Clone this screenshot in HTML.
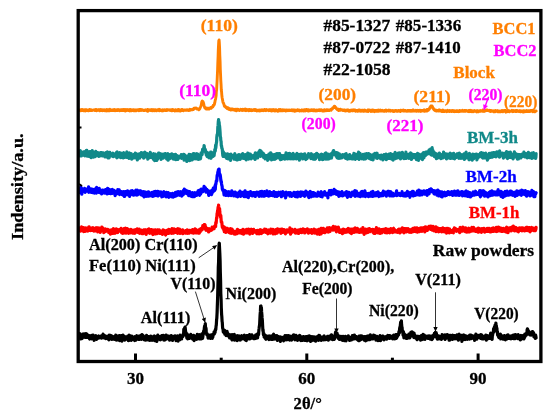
<!DOCTYPE html>
<html><head><meta charset="utf-8"><title>XRD patterns</title>
<style>html,body{margin:0;padding:0;background:#fff}svg{display:block}text{font-family:"Liberation Serif","Times New Roman",serif;font-weight:bold;stroke-width:.3px}</style></head><body>
<svg width="550" height="419" viewBox="0 0 550 419">
<rect width="550" height="419" fill="#fff"/>
<polyline fill="none" stroke="#FF7F00" stroke-width="2.9" stroke-linejoin="round" stroke-linecap="round" points="79.6,110.3 79.8,109.9 80.1,110.2 80.3,110.0 80.6,110.8 80.8,109.9 81.1,109.6 81.3,110.4 81.6,110.0 81.8,110.3 82.1,109.9 82.3,110.5 82.6,109.6 82.8,110.2 83.1,110.4 83.3,110.7 83.6,110.0 83.8,110.2 84.1,110.5 84.3,109.8 84.6,110.5 84.8,110.4 85.1,110.9 85.3,110.4 85.6,109.7 85.8,109.9 86.1,110.0 86.3,109.7 86.6,110.3 86.8,110.2 87.1,110.6 87.3,110.3 87.6,110.1 87.8,110.3 88.1,110.7 88.3,110.8 88.6,109.9 88.8,110.1 89.1,110.2 89.3,110.5 89.6,109.6 89.8,110.6 90.1,110.6 90.3,109.7 90.6,110.4 90.8,110.1 91.1,109.9 91.3,110.5 91.6,110.6 91.8,110.5 92.1,110.4 92.3,110.5 92.6,110.2 92.8,110.1 93.1,110.1 93.3,110.0 93.6,110.0 93.8,110.0 94.1,110.1 94.3,109.9 94.6,110.4 94.8,110.5 95.1,110.1 95.3,109.9 95.6,110.1 95.8,109.6 96.1,110.5 96.3,110.8 96.6,109.6 96.8,110.4 97.1,110.5 97.3,110.5 97.6,110.2 97.8,110.0 98.1,109.8 98.3,110.2 98.6,109.8 98.8,110.0 99.1,109.7 99.3,110.3 99.6,110.6 99.8,109.7 100.1,110.3 100.3,110.3 100.6,109.9 100.8,110.4 101.1,109.6 101.3,110.2 101.6,109.8 101.8,110.4 102.1,109.9 102.3,109.8 102.6,110.7 102.8,110.5 103.1,110.6 103.3,110.1 103.6,109.9 103.8,109.8 104.1,109.7 104.3,110.5 104.6,110.3 104.8,110.6 105.1,110.1 105.3,110.3 105.6,110.6 105.8,110.3 106.1,109.7 106.3,109.8 106.6,110.9 106.8,110.6 107.1,109.6 107.3,109.8 107.6,109.7 107.8,110.3 108.1,110.6 108.3,110.2 108.6,109.8 108.8,110.6 109.1,109.7 109.3,110.3 109.6,110.8 109.8,110.3 110.1,109.3 110.3,110.1 110.6,110.5 110.8,110.3 111.1,110.1 111.3,110.3 111.6,109.9 111.8,109.9 112.1,110.2 112.3,110.6 112.6,110.0 112.8,110.0 113.1,109.6 113.3,109.6 113.6,109.7 113.8,109.9 114.1,110.5 114.3,109.9 114.6,109.6 114.8,110.1 115.1,110.7 115.3,110.3 115.6,110.1 115.8,110.5 116.1,110.6 116.3,110.3 116.6,110.2 116.8,109.9 117.1,110.2 117.3,110.5 117.6,110.2 117.8,110.5 118.1,109.6 118.3,110.1 118.6,110.0 118.8,110.3 119.1,109.7 119.3,110.2 119.6,110.7 119.8,110.2 120.1,109.8 120.3,110.2 120.6,110.0 120.8,110.4 121.1,110.6 121.3,110.4 121.6,110.5 121.8,110.1 122.1,109.6 122.3,110.1 122.6,110.1 122.8,110.4 123.1,110.2 123.3,109.9 123.6,110.4 123.8,109.5 124.1,110.3 124.3,109.8 124.6,110.5 124.8,110.0 125.1,109.6 125.3,111.1 125.6,109.8 125.8,109.7 126.1,109.9 126.3,109.9 126.6,109.7 126.8,110.5 127.1,109.7 127.3,110.4 127.6,110.0 127.8,109.8 128.1,109.9 128.3,109.7 128.6,110.4 128.8,109.9 129.1,110.5 129.3,109.7 129.6,110.9 129.8,110.8 130.1,109.6 130.3,110.3 130.6,109.7 130.8,109.9 131.1,109.8 131.3,110.8 131.6,110.2 131.8,110.3 132.1,110.1 132.3,110.0 132.6,110.5 132.8,110.2 133.1,110.1 133.3,109.7 133.6,109.8 133.8,110.8 134.1,110.2 134.3,110.8 134.6,110.0 134.8,110.6 135.1,110.0 135.3,110.7 135.6,109.9 135.8,110.3 136.1,110.6 136.3,110.7 136.6,110.2 136.8,110.0 137.1,110.4 137.3,109.9 137.6,109.8 137.8,109.7 138.1,109.9 138.3,110.0 138.6,109.9 138.8,110.8 139.1,110.5 139.3,109.5 139.6,110.2 139.8,110.4 140.1,110.5 140.3,109.5 140.6,110.0 140.8,109.8 141.1,109.7 141.3,110.0 141.6,109.8 141.8,110.4 142.1,109.8 142.3,109.8 142.6,110.0 142.8,110.0 143.1,110.0 143.3,110.1 143.6,110.5 143.8,110.6 144.1,110.6 144.3,110.6 144.6,110.5 144.8,110.4 145.1,110.1 145.3,109.9 145.6,110.3 145.8,110.4 146.1,110.3 146.3,110.2 146.6,110.6 146.8,110.1 147.1,109.7 147.3,110.2 147.6,109.4 147.8,111.3 148.1,110.4 148.3,110.1 148.6,110.0 148.8,109.9 149.1,109.7 149.3,110.4 149.6,110.0 149.8,110.0 150.1,109.9 150.3,109.9 150.6,109.7 150.8,109.9 151.1,110.6 151.3,109.8 151.6,109.6 151.8,110.5 152.1,110.5 152.3,110.7 152.6,109.8 152.8,110.0 153.1,109.9 153.3,109.8 153.6,110.0 153.8,109.8 154.1,110.8 154.3,110.0 154.6,109.7 154.8,109.7 155.1,110.1 155.3,110.3 155.6,110.2 155.8,109.8 156.1,110.7 156.3,110.1 156.6,110.3 156.8,110.7 157.1,110.2 157.3,110.0 157.6,110.2 157.8,109.7 158.1,110.3 158.3,110.2 158.6,109.9 158.8,109.7 159.1,109.3 159.3,110.9 159.6,109.6 159.8,109.5 160.1,109.9 160.3,110.5 160.6,110.1 160.8,110.5 161.1,110.2 161.3,110.4 161.6,110.4 161.8,110.8 162.1,110.9 162.3,110.0 162.6,110.5 162.8,109.9 163.1,110.8 163.3,110.3 163.6,110.2 163.8,110.0 164.1,110.0 164.3,109.7 164.6,110.1 164.8,110.0 165.1,110.1 165.3,110.6 165.6,110.0 165.8,110.3 166.1,110.2 166.3,109.7 166.6,110.3 166.8,110.5 167.1,110.4 167.3,109.6 167.6,109.9 167.8,110.1 168.1,109.9 168.3,109.9 168.6,109.8 168.8,109.9 169.1,110.1 169.3,109.9 169.6,110.2 169.8,109.9 170.1,110.0 170.3,110.3 170.6,110.0 170.8,110.5 171.1,110.6 171.3,110.0 171.6,110.7 171.8,110.6 172.1,110.7 172.3,109.5 172.6,110.1 172.8,110.0 173.1,110.5 173.3,109.6 173.6,110.0 173.8,110.1 174.1,110.5 174.3,110.8 174.6,110.5 174.8,110.9 175.1,110.0 175.3,110.9 175.6,109.7 175.8,110.0 176.1,110.6 176.3,110.7 176.6,110.8 176.8,110.5 177.1,110.1 177.3,110.3 177.6,110.8 177.8,110.4 178.1,110.5 178.3,109.5 178.6,110.8 178.8,110.4 179.1,109.7 179.3,110.5 179.6,110.4 179.8,110.2 180.1,110.7 180.3,111.1 180.6,109.9 180.8,110.8 181.1,110.7 181.3,110.0 181.6,110.0 181.8,109.5 182.1,109.8 182.3,110.6 182.6,109.6 182.8,109.8 183.1,110.4 183.3,110.7 183.6,110.1 183.8,110.4 184.1,110.2 184.3,109.9 184.6,109.9 184.8,109.9 185.1,110.2 185.3,110.0 185.6,110.2 185.8,110.1 186.1,110.2 186.3,109.9 186.6,109.9 186.8,109.8 187.1,109.9 187.3,110.2 187.6,109.8 187.8,110.3 188.1,110.3 188.3,110.2 188.6,110.3 188.8,110.5 189.1,109.7 189.3,109.8 189.6,109.7 189.8,109.4 190.1,110.1 190.3,110.2 190.6,110.1 190.8,109.5 191.1,109.5 191.3,109.7 191.6,109.9 191.8,109.9 192.1,109.8 192.3,109.4 192.6,109.2 192.8,109.7 193.1,109.2 193.3,109.5 193.6,109.0 193.8,109.1 194.1,108.2 194.3,108.7 194.6,108.2 194.8,108.2 195.1,108.0 195.3,108.2 195.6,108.1 195.8,108.2 196.1,108.0 196.3,108.3 196.6,108.7 196.8,109.0 197.1,108.9 197.3,108.8 197.6,109.1 197.8,109.1 198.1,109.0 198.3,109.4 198.6,109.5 198.8,109.7 199.1,109.3 199.3,109.3 199.6,108.9 199.8,108.8 200.1,107.8 200.3,107.6 200.6,106.8 200.8,106.2 201.1,105.2 201.3,104.9 201.6,102.9 201.8,101.8 202.1,101.4 202.3,101.0 202.6,101.5 202.8,101.5 203.1,101.7 203.3,102.7 203.6,103.6 203.8,104.1 204.1,106.2 204.3,106.5 204.6,107.1 204.8,107.9 205.1,107.4 205.3,107.9 205.6,108.5 205.8,108.7 206.1,108.0 206.3,109.0 206.6,108.9 206.8,109.0 207.1,108.1 207.3,109.1 207.6,109.0 207.8,108.4 208.1,108.3 208.3,109.0 208.6,108.5 208.8,108.4 209.1,109.1 209.3,108.2 209.6,108.1 209.8,108.0 210.1,108.2 210.3,108.2 210.6,108.2 210.8,107.5 211.1,108.3 211.3,107.9 211.6,107.6 211.8,107.3 212.1,107.2 212.3,107.1 212.6,106.4 212.8,106.9 213.1,106.2 213.3,105.2 213.6,105.3 213.8,105.4 214.1,104.7 214.3,104.6 214.6,103.4 214.8,102.7 215.1,100.8 215.3,100.0 215.6,98.8 215.8,97.5 216.1,95.8 216.3,92.1 216.6,89.9 216.8,86.3 217.1,81.0 217.3,76.6 217.6,69.9 217.8,63.5 218.1,56.2 218.3,49.8 218.6,44.2 218.8,40.8 219.1,39.9 219.3,42.7 219.6,48.2 219.8,55.2 220.1,61.7 220.3,69.2 220.6,75.5 220.8,80.3 221.1,85.2 221.3,89.8 221.6,92.1 221.8,94.8 222.1,97.5 222.3,98.6 222.6,100.1 222.8,101.3 223.1,102.8 223.3,102.9 223.6,103.2 223.8,104.1 224.1,104.7 224.3,106.0 224.6,106.4 224.8,106.5 225.1,106.3 225.3,106.6 225.6,106.9 225.8,107.3 226.1,107.7 226.3,107.1 226.6,107.9 226.8,108.1 227.1,107.5 227.3,107.8 227.6,108.7 227.8,108.2 228.1,107.9 228.3,108.6 228.6,108.2 228.8,108.9 229.1,109.4 229.3,108.6 229.6,108.7 229.8,109.1 230.1,109.6 230.3,109.3 230.6,109.2 230.8,110.1 231.1,109.4 231.3,109.7 231.6,109.1 231.8,109.3 232.1,109.6 232.3,108.9 232.6,109.7 232.8,109.2 233.1,109.3 233.3,109.9 233.6,109.9 233.8,110.0 234.1,109.3 234.3,109.7 234.6,110.2 234.8,109.8 235.1,109.7 235.3,110.0 235.6,109.3 235.8,109.5 236.1,110.0 236.3,110.8 236.6,109.8 236.8,109.3 237.1,110.1 237.3,110.2 237.6,109.3 237.8,109.3 238.1,110.1 238.3,109.4 238.6,110.2 238.8,110.3 239.1,110.3 239.3,110.5 239.6,109.8 239.8,109.7 240.1,110.1 240.3,109.9 240.6,110.0 240.8,109.3 241.1,109.5 241.3,109.9 241.6,110.3 241.8,109.8 242.1,110.0 242.3,110.4 242.6,109.3 242.8,109.9 243.1,110.2 243.3,109.9 243.6,110.1 243.8,109.8 244.1,110.0 244.3,109.1 244.6,110.0 244.8,110.1 245.1,110.5 245.3,109.4 245.6,109.1 245.8,109.6 246.1,110.7 246.3,109.9 246.6,110.0 246.8,110.3 247.1,109.5 247.3,110.0 247.6,110.2 247.8,110.2 248.1,109.8 248.3,109.8 248.6,109.6 248.8,110.7 249.1,109.9 249.3,110.5 249.6,109.5 249.8,110.5 250.1,109.6 250.3,110.5 250.6,109.8 250.8,110.4 251.1,110.2 251.3,109.7 251.6,110.7 251.8,110.0 252.1,110.1 252.3,110.6 252.6,110.0 252.8,109.9 253.1,109.9 253.3,109.9 253.6,109.9 253.8,110.2 254.1,109.5 254.3,109.6 254.6,110.4 254.8,110.5 255.1,109.5 255.3,109.6 255.6,110.5 255.8,109.8 256.1,110.0 256.4,110.4 256.6,110.1 256.9,110.9 257.1,110.1 257.4,110.8 257.6,110.4 257.9,110.7 258.1,110.5 258.4,110.8 258.6,110.4 258.9,110.6 259.1,110.0 259.4,110.5 259.6,110.0 259.9,111.0 260.1,110.5 260.4,110.5 260.6,110.5 260.9,110.5 261.1,110.0 261.4,110.3 261.6,110.0 261.9,109.9 262.1,110.7 262.4,109.9 262.6,110.2 262.9,110.1 263.1,110.4 263.4,110.6 263.6,110.3 263.9,110.3 264.1,110.0 264.4,109.4 264.6,109.9 264.9,110.1 265.1,109.9 265.4,110.5 265.6,110.4 265.9,110.3 266.1,110.6 266.4,110.2 266.6,109.6 266.9,109.8 267.1,109.9 267.4,110.0 267.6,110.1 267.9,110.1 268.1,110.4 268.4,110.6 268.6,110.1 268.9,109.7 269.1,109.8 269.4,109.8 269.6,110.1 269.9,109.9 270.1,110.4 270.4,109.8 270.6,110.3 270.9,110.6 271.1,110.8 271.4,111.0 271.6,109.8 271.9,110.1 272.1,110.4 272.4,110.1 272.6,110.3 272.9,110.6 273.1,110.0 273.4,109.6 273.6,110.0 273.9,109.9 274.1,110.1 274.4,110.2 274.6,110.1 274.9,111.0 275.1,109.9 275.4,110.1 275.6,110.7 275.9,109.7 276.1,110.3 276.4,110.1 276.6,110.0 276.9,110.8 277.1,110.4 277.4,110.4 277.6,110.8 277.9,111.1 278.1,110.3 278.4,110.1 278.6,110.0 278.9,109.6 279.1,110.7 279.4,110.6 279.6,110.4 279.9,110.6 280.1,109.5 280.4,110.0 280.6,110.1 280.9,110.6 281.1,110.7 281.4,110.1 281.6,110.4 281.9,110.8 282.1,110.4 282.4,109.8 282.6,110.4 282.9,110.7 283.1,109.9 283.4,110.0 283.6,110.1 283.9,110.4 284.1,110.1 284.4,110.3 284.6,110.1 284.9,110.3 285.1,110.0 285.4,110.4 285.6,111.0 285.9,110.8 286.1,110.1 286.4,110.0 286.6,110.5 286.9,110.8 287.1,110.8 287.4,110.3 287.6,110.3 287.9,110.1 288.1,110.4 288.4,110.2 288.6,110.6 288.9,110.3 289.1,110.6 289.4,110.0 289.6,110.1 289.9,110.5 290.1,110.3 290.4,110.5 290.6,110.6 290.9,110.2 291.1,110.1 291.4,110.0 291.6,110.5 291.9,109.9 292.1,110.3 292.4,110.4 292.6,110.9 292.9,110.9 293.1,109.9 293.4,110.6 293.6,110.4 293.9,110.1 294.1,110.2 294.4,110.6 294.6,111.3 294.9,110.0 295.1,110.4 295.4,110.9 295.6,110.5 295.9,110.6 296.1,110.5 296.4,110.7 296.6,110.8 296.9,110.4 297.1,110.4 297.4,109.7 297.6,110.2 297.9,110.0 298.1,110.5 298.4,110.1 298.6,110.4 298.9,110.3 299.1,110.3 299.4,111.0 299.6,110.2 299.9,110.5 300.1,110.9 300.4,110.8 300.6,110.5 300.9,110.2 301.1,110.8 301.4,110.4 301.6,110.0 301.9,110.9 302.1,110.1 302.4,110.5 302.6,110.6 302.9,109.9 303.1,110.4 303.4,110.9 303.6,109.9 303.9,110.3 304.1,110.8 304.4,110.4 304.6,109.7 304.9,110.9 305.1,109.9 305.4,110.9 305.6,110.6 305.9,109.8 306.1,110.0 306.4,109.6 306.6,110.1 306.9,110.1 307.1,109.6 307.4,110.9 307.6,110.8 307.9,110.2 308.1,110.7 308.4,111.0 308.6,109.7 308.9,110.3 309.1,110.0 309.4,110.3 309.6,110.6 309.9,110.4 310.1,110.2 310.4,110.6 310.6,109.9 310.9,110.3 311.1,110.6 311.4,110.6 311.6,110.6 311.9,109.8 312.1,109.9 312.4,110.2 312.6,110.1 312.9,110.3 313.1,110.1 313.4,109.8 313.6,110.9 313.9,110.1 314.1,110.5 314.4,109.8 314.6,110.9 314.9,110.5 315.1,110.2 315.4,110.3 315.6,110.5 315.9,111.0 316.1,110.4 316.4,110.7 316.6,110.1 316.9,110.4 317.1,110.3 317.4,110.2 317.6,110.7 317.9,110.5 318.1,110.1 318.4,110.5 318.6,109.9 318.9,110.3 319.1,110.4 319.4,110.3 319.6,109.8 319.9,110.2 320.1,110.7 320.4,110.1 320.6,110.2 320.9,109.9 321.1,109.9 321.4,109.7 321.6,110.3 321.9,110.0 322.1,110.1 322.4,110.9 322.6,110.4 322.9,110.5 323.1,111.0 323.4,110.7 323.6,110.4 323.9,109.9 324.1,111.0 324.4,109.7 324.6,110.0 324.9,109.9 325.1,110.9 325.4,110.7 325.6,110.2 325.9,110.3 326.1,110.2 326.4,109.6 326.6,109.6 326.9,110.7 327.1,110.4 327.4,110.5 327.6,110.6 327.9,109.8 328.1,110.6 328.4,109.9 328.6,110.2 328.9,109.9 329.1,110.0 329.4,110.5 329.6,109.9 329.9,109.9 330.1,109.8 330.4,110.0 330.6,109.9 330.9,109.4 331.1,110.3 331.4,109.8 331.6,108.9 331.9,109.2 332.1,109.3 332.4,109.0 332.6,107.9 332.9,107.9 333.1,107.6 333.4,107.6 333.6,107.6 333.9,106.8 334.1,107.4 334.4,106.1 334.6,107.6 334.9,106.4 335.1,107.0 335.4,107.2 335.6,107.8 335.9,107.6 336.1,107.9 336.4,108.8 336.6,108.7 336.9,109.0 337.1,109.4 337.4,109.0 337.6,109.9 337.9,109.9 338.1,110.2 338.4,110.2 338.6,110.4 338.9,109.3 339.1,110.0 339.4,110.1 339.6,109.7 339.9,110.1 340.1,110.3 340.4,109.2 340.6,109.9 340.9,109.9 341.1,110.0 341.4,110.1 341.6,110.0 341.9,110.0 342.1,109.8 342.4,110.3 342.6,110.3 342.9,110.5 343.1,110.5 343.4,110.0 343.6,110.5 343.9,110.5 344.1,110.1 344.4,110.0 344.6,110.2 344.9,110.8 345.1,110.3 345.4,110.6 345.6,110.9 345.9,110.3 346.1,110.9 346.4,110.1 346.6,110.4 346.9,110.2 347.1,110.3 347.4,110.5 347.6,110.0 347.9,109.7 348.1,110.7 348.4,111.0 348.6,110.3 348.9,110.7 349.1,111.3 349.4,110.8 349.6,110.4 349.9,110.8 350.1,110.2 350.4,110.2 350.6,111.0 350.9,110.8 351.1,110.6 351.4,110.2 351.6,110.0 351.9,110.3 352.1,110.3 352.4,110.0 352.6,110.0 352.9,110.9 353.1,110.6 353.4,110.1 353.6,110.4 353.9,110.0 354.1,110.6 354.4,110.1 354.6,110.6 354.9,110.8 355.1,110.9 355.4,110.1 355.6,111.2 355.9,110.8 356.1,110.6 356.4,110.9 356.6,110.4 356.9,110.4 357.1,110.6 357.4,111.3 357.6,111.0 357.9,111.2 358.1,110.4 358.4,110.1 358.6,111.0 358.9,111.0 359.1,111.0 359.4,110.0 359.6,110.3 359.9,110.8 360.1,110.2 360.4,111.0 360.6,111.0 360.9,111.3 361.1,111.0 361.4,110.3 361.6,110.2 361.9,111.1 362.1,110.5 362.4,110.3 362.6,110.3 362.9,110.3 363.1,111.2 363.4,110.5 363.6,111.2 363.9,111.1 364.1,110.2 364.4,111.2 364.6,111.0 364.9,110.1 365.1,110.4 365.4,111.1 365.6,111.1 365.9,110.9 366.1,110.9 366.4,111.2 366.6,110.9 366.9,110.9 367.1,110.9 367.4,110.7 367.6,110.1 367.9,109.9 368.1,111.5 368.4,110.7 368.6,111.0 368.9,110.2 369.1,110.8 369.4,110.0 369.6,110.6 369.9,110.4 370.1,110.3 370.4,110.9 370.6,110.9 370.9,111.4 371.1,111.0 371.4,111.1 371.6,110.3 371.9,110.5 372.1,110.6 372.4,111.3 372.6,109.9 372.9,110.5 373.1,111.3 373.4,111.3 373.6,110.9 373.9,110.3 374.1,110.4 374.4,111.3 374.6,111.6 374.9,110.8 375.1,111.1 375.4,110.4 375.6,110.5 375.9,110.7 376.1,110.8 376.4,111.1 376.6,110.7 376.9,110.4 377.1,110.3 377.4,110.4 377.6,110.3 377.9,111.3 378.1,110.9 378.4,110.9 378.6,110.1 378.9,110.8 379.1,111.1 379.4,110.9 379.6,111.1 379.9,111.1 380.1,110.9 380.4,110.1 380.6,110.7 380.9,110.5 381.1,111.1 381.4,111.0 381.6,110.4 381.9,110.4 382.1,110.7 382.4,110.3 382.6,111.1 382.9,110.7 383.1,110.6 383.4,110.6 383.6,111.1 383.9,111.3 384.1,110.8 384.4,110.6 384.6,110.5 384.9,110.5 385.1,111.2 385.4,110.5 385.6,110.6 385.9,110.1 386.1,110.7 386.4,111.2 386.6,110.8 386.9,110.6 387.1,110.8 387.4,110.6 387.6,110.4 387.9,110.4 388.1,110.2 388.4,110.3 388.6,111.1 388.9,110.3 389.1,110.6 389.4,110.7 389.6,110.4 389.9,110.6 390.1,110.3 390.4,111.2 390.6,110.8 390.9,110.7 391.1,110.8 391.4,110.6 391.6,110.7 391.9,110.9 392.1,110.7 392.4,111.1 392.6,110.6 392.9,111.1 393.1,111.2 393.4,111.0 393.6,110.7 393.9,111.1 394.1,111.5 394.4,110.6 394.6,110.6 394.9,110.7 395.1,110.6 395.4,111.1 395.6,110.5 395.9,110.6 396.1,111.0 396.4,110.6 396.6,110.9 396.9,111.2 397.1,110.9 397.4,110.8 397.6,110.8 397.9,110.7 398.1,111.2 398.4,110.4 398.6,110.7 398.9,110.7 399.1,111.1 399.4,110.9 399.6,111.2 399.9,110.7 400.1,110.9 400.4,111.4 400.6,110.1 400.9,110.3 401.1,111.0 401.4,110.6 401.6,110.8 401.9,110.7 402.1,110.4 402.4,110.6 402.6,110.7 402.9,110.9 403.1,110.7 403.4,110.1 403.6,110.5 403.9,111.1 404.1,110.5 404.4,110.9 404.6,110.4 404.9,111.0 405.1,111.1 405.4,110.5 405.6,110.7 405.9,111.0 406.1,110.7 406.4,110.9 406.6,111.0 406.9,111.2 407.1,111.1 407.4,110.6 407.6,110.9 407.9,111.1 408.1,110.5 408.4,111.0 408.6,110.6 408.9,111.0 409.1,110.4 409.4,111.0 409.6,110.6 409.9,110.9 410.1,111.2 410.4,110.4 410.6,111.2 410.9,110.4 411.1,110.9 411.4,110.9 411.6,110.5 411.9,111.2 412.1,110.9 412.4,111.0 412.6,110.7 412.9,110.0 413.1,111.1 413.4,109.9 413.6,110.9 413.9,110.6 414.1,110.5 414.4,110.9 414.6,111.1 414.9,111.1 415.1,111.1 415.4,110.8 415.6,110.8 415.9,111.0 416.1,110.3 416.4,111.3 416.6,111.0 416.9,110.6 417.1,110.7 417.4,110.4 417.6,110.6 417.9,111.0 418.1,110.5 418.4,111.2 418.6,110.6 418.9,110.9 419.1,110.6 419.4,110.3 419.6,110.7 419.9,111.2 420.1,111.3 420.4,110.5 420.6,110.3 420.9,111.4 421.1,111.0 421.4,110.4 421.6,110.4 421.9,110.5 422.1,110.8 422.4,110.5 422.6,110.5 422.9,110.9 423.1,110.8 423.4,111.0 423.6,110.6 423.9,110.1 424.1,109.9 424.4,110.7 424.6,111.3 424.9,110.3 425.1,110.3 425.4,110.6 425.6,110.9 425.9,110.5 426.1,110.9 426.4,110.3 426.6,109.8 426.9,111.0 427.1,110.3 427.4,109.5 427.6,110.2 427.9,109.6 428.1,110.4 428.4,110.1 428.6,109.7 428.9,108.9 429.1,109.4 429.4,108.9 429.6,108.5 429.9,107.5 430.1,107.7 430.4,106.9 430.6,106.8 430.9,105.9 431.1,106.2 431.4,106.5 431.6,107.0 431.9,106.0 432.1,106.0 432.4,106.8 432.6,107.0 432.9,107.8 433.1,108.6 433.4,108.3 433.6,109.1 433.9,109.7 434.1,109.4 434.4,110.1 434.6,110.3 434.9,109.7 435.1,110.1 435.4,110.8 435.6,110.0 435.9,110.1 436.1,110.8 436.4,111.0 436.6,111.1 436.9,111.0 437.1,110.9 437.4,110.5 437.6,110.8 437.9,110.9 438.1,110.8 438.4,110.4 438.6,111.0 438.9,109.9 439.1,110.6 439.4,110.4 439.6,110.8 439.9,110.0 440.1,110.4 440.4,111.1 440.6,110.8 440.9,111.0 441.1,110.9 441.4,110.7 441.6,111.4 441.9,110.7 442.1,111.3 442.4,110.2 442.6,110.5 442.9,111.5 443.1,110.1 443.4,110.9 443.6,111.2 443.9,110.9 444.1,111.1 444.4,111.4 444.6,111.1 444.9,110.9 445.1,111.3 445.4,111.0 445.6,110.7 445.9,111.0 446.1,110.9 446.4,111.3 446.6,111.6 446.9,110.8 447.1,111.5 447.4,111.2 447.6,110.3 447.9,111.0 448.1,111.3 448.4,110.7 448.6,111.2 448.9,111.4 449.1,110.7 449.4,111.1 449.6,110.6 449.9,111.4 450.1,111.0 450.4,110.7 450.6,111.0 450.9,110.9 451.1,110.8 451.4,111.6 451.6,110.8 451.9,110.7 452.1,111.4 452.4,110.8 452.6,111.2 452.9,111.3 453.1,110.6 453.4,111.4 453.6,110.9 453.9,111.0 454.1,110.7 454.4,111.0 454.6,111.7 454.9,111.3 455.1,111.0 455.4,111.2 455.6,111.6 455.9,111.3 456.1,111.5 456.4,110.7 456.6,111.2 456.9,111.5 457.1,111.6 457.4,111.4 457.6,110.8 457.9,111.5 458.1,111.2 458.4,111.6 458.6,111.2 458.9,111.1 459.1,110.9 459.4,111.6 459.6,110.5 459.9,111.4 460.1,111.1 460.4,110.7 460.6,110.7 460.9,110.9 461.1,111.2 461.4,111.3 461.6,111.2 461.9,110.8 462.1,110.8 462.4,110.3 462.6,111.0 462.9,111.3 463.1,110.8 463.4,110.8 463.6,110.9 463.9,111.1 464.1,110.8 464.4,110.5 464.6,110.6 464.9,111.2 465.1,110.6 465.4,111.3 465.6,110.8 465.9,110.8 466.1,111.1 466.4,111.0 466.6,110.6 466.9,110.8 467.1,110.9 467.4,111.2 467.6,111.1 467.9,110.9 468.1,111.6 468.4,110.8 468.6,111.4 468.9,111.6 469.1,110.4 469.4,110.8 469.6,111.5 469.9,110.5 470.1,110.3 470.4,111.5 470.6,111.1 470.9,111.5 471.1,111.4 471.4,110.9 471.6,111.0 471.9,110.6 472.1,111.7 472.4,111.1 472.6,111.0 472.9,111.0 473.1,111.4 473.4,111.6 473.6,111.0 473.9,111.3 474.1,111.3 474.4,110.6 474.6,110.8 474.9,110.9 475.1,110.9 475.4,111.2 475.6,111.0 475.9,111.1 476.1,111.1 476.4,111.2 476.6,111.9 476.9,110.6 477.1,111.5 477.4,110.8 477.6,110.8 477.9,111.3 478.1,110.9 478.4,111.8 478.6,111.7 478.9,111.2 479.1,111.3 479.4,111.0 479.6,110.8 479.9,111.1 480.1,110.8 480.4,110.6 480.6,111.2 480.9,111.2 481.1,111.0 481.4,111.1 481.6,111.0 481.9,110.9 482.1,110.6 482.4,111.3 482.6,111.2 482.9,110.1 483.1,110.5 483.4,111.3 483.6,111.0 483.9,110.8 484.1,111.4 484.4,110.9 484.6,110.6 484.9,110.9 485.1,110.2 485.4,110.6 485.6,110.8 485.9,110.2 486.1,110.5 486.4,109.9 486.6,110.4 486.9,109.9 487.1,109.9 487.4,109.9 487.6,110.5 487.9,110.4 488.1,110.5 488.4,110.5 488.6,110.8 488.9,110.8 489.1,110.8 489.4,110.5 489.6,110.3 489.9,111.0 490.1,110.9 490.4,111.5 490.6,111.3 490.9,110.4 491.1,110.6 491.4,111.2 491.6,111.2 491.9,111.3 492.1,111.4 492.4,111.2 492.6,110.9 492.9,110.7 493.1,111.2 493.4,111.1 493.6,111.4 493.9,110.9 494.1,111.9 494.4,111.4 494.6,111.1 494.9,111.6 495.1,110.7 495.4,111.7 495.6,110.7 495.9,110.9 496.1,111.3 496.4,111.0 496.6,111.1 496.9,111.1 497.1,110.8 497.4,111.5 497.6,110.7 497.9,111.8 498.1,111.0 498.4,111.1 498.6,111.6 498.9,111.2 499.1,111.1 499.4,111.4 499.6,111.6 499.9,111.1 500.1,111.0 500.4,111.5 500.6,111.5 500.9,111.2 501.1,111.7 501.4,111.4 501.6,111.1 501.9,110.6 502.1,111.5 502.4,110.9 502.6,110.8 502.9,111.8 503.1,111.2 503.4,111.3 503.6,111.3 503.9,111.3 504.1,110.5 504.4,111.2 504.6,111.1 504.9,110.4 505.1,110.5 505.4,111.3 505.6,111.7 505.9,112.1 506.1,110.6 506.4,110.8 506.6,111.9 506.9,111.6 507.1,110.7 507.4,111.0 507.6,111.2 507.9,111.0 508.1,111.5 508.4,111.5 508.6,110.8 508.9,111.0 509.1,110.8 509.4,111.8 509.6,111.3 509.9,111.0 510.1,111.1 510.4,111.2 510.6,111.4 510.9,111.4 511.1,111.2 511.4,111.3 511.6,110.7 511.9,110.4 512.1,111.0 512.4,111.0 512.6,110.7 512.9,111.7 513.1,111.3 513.4,111.2 513.6,111.4 513.9,110.6 514.1,111.4 514.4,111.3 514.6,110.9 514.9,111.3 515.1,110.8 515.4,110.8 515.6,111.6 515.9,110.7 516.1,111.0 516.4,110.8 516.6,111.4 516.9,110.8 517.1,111.4 517.4,110.6 517.6,111.1 517.9,111.3 518.1,111.3 518.4,111.3 518.6,111.5 518.9,111.3 519.1,111.6 519.4,111.5 519.6,110.6 519.9,111.2 520.1,110.9 520.4,111.8 520.6,110.9 520.9,111.4 521.1,111.0 521.4,111.4 521.6,111.1 521.9,111.4 522.1,111.3 522.4,111.6 522.6,111.0 522.9,111.9 523.1,111.6 523.4,111.6 523.6,110.7 523.9,111.9 524.1,111.3 524.4,111.2 524.6,111.8 524.9,111.2 525.1,110.8 525.4,111.5 525.6,110.9 525.9,110.9 526.1,110.9 526.4,111.6 526.6,111.4 526.9,110.6 527.1,111.0 527.4,111.4 527.6,111.1 527.9,111.1 528.1,111.6 528.4,110.8 528.6,110.8 528.9,111.3 529.1,111.4 529.4,111.1 529.6,111.6 529.9,111.3 530.1,110.9 530.4,111.1 530.6,110.6 530.9,111.1 531.1,111.1 531.4,110.4 531.6,110.7 531.9,111.2 532.1,110.8 532.4,110.9 532.6,111.6 532.9,111.8 533.1,110.3 533.4,111.5 533.6,111.0 533.9,111.0 534.1,111.1 534.4,111.7 534.6,111.4 534.9,111.8 535.1,110.9 535.4,111.1 535.6,111.3 535.9,111.1 536.1,111.0"/>
<polyline fill="none" stroke="#108989" stroke-width="3.2" stroke-linejoin="round" stroke-linecap="round" points="79.6,155.9 79.8,151.7 80.1,154.1 80.3,150.5 80.6,152.9 80.8,153.8 81.1,153.2 81.3,156.0 81.6,152.3 81.8,155.0 82.1,152.7 82.3,152.5 82.6,153.0 82.8,155.2 83.1,153.4 83.3,152.7 83.6,151.8 83.8,151.8 84.1,154.4 84.3,153.9 84.6,153.9 84.8,155.9 85.1,151.6 85.3,154.6 85.6,152.1 85.8,154.3 86.1,154.5 86.3,150.4 86.6,150.4 86.8,150.4 87.1,154.7 87.3,156.2 87.6,152.9 87.8,156.2 88.1,154.8 88.3,153.0 88.6,152.0 88.8,153.1 89.1,155.3 89.3,154.1 89.6,156.7 89.8,154.5 90.1,151.7 90.3,153.5 90.6,151.7 90.8,154.9 91.1,154.2 91.3,157.7 91.6,153.7 91.8,152.9 92.1,153.0 92.3,150.7 92.6,154.8 92.8,155.8 93.1,154.8 93.3,157.2 93.6,155.0 93.8,154.8 94.1,156.0 94.3,154.8 94.6,154.4 94.8,152.1 95.1,152.2 95.3,156.6 95.6,153.2 95.8,151.3 96.1,154.6 96.3,152.7 96.6,155.3 96.8,155.3 97.1,154.5 97.3,153.9 97.6,152.8 97.8,153.3 98.1,155.4 98.3,152.9 98.6,153.3 98.8,156.5 99.1,155.6 99.3,156.3 99.6,155.3 99.8,153.0 100.1,153.3 100.3,155.0 100.6,152.5 100.8,154.0 101.1,155.6 101.3,152.6 101.6,154.9 101.8,152.5 102.1,155.8 102.3,154.1 102.6,153.5 102.8,156.0 103.1,154.7 103.3,152.8 103.6,155.6 103.8,154.8 104.1,153.5 104.3,155.2 104.6,154.6 104.8,153.6 105.1,157.0 105.3,156.2 105.6,153.1 105.8,155.3 106.1,152.6 106.3,155.0 106.6,154.4 106.8,153.7 107.1,155.5 107.3,151.8 107.6,157.5 107.8,155.2 108.1,158.0 108.3,153.9 108.6,152.9 108.8,154.5 109.1,157.9 109.3,156.2 109.6,152.4 109.8,152.4 110.1,156.3 110.3,154.4 110.6,154.9 110.8,155.7 111.1,155.9 111.3,154.6 111.6,155.5 111.8,154.3 112.1,154.5 112.3,156.1 112.6,156.2 112.8,153.1 113.1,156.6 113.3,155.5 113.6,155.1 113.8,155.3 114.1,155.5 114.3,154.5 114.6,154.6 114.8,156.1 115.1,154.4 115.3,155.4 115.6,155.6 115.8,153.4 116.1,155.4 116.3,154.3 116.6,152.4 116.8,157.8 117.1,151.9 117.3,153.3 117.6,155.8 117.8,153.8 118.1,154.8 118.3,155.2 118.6,155.3 118.8,156.9 119.1,155.4 119.3,156.5 119.6,153.2 119.8,152.7 120.1,156.4 120.3,155.6 120.6,157.6 120.8,153.0 121.1,155.0 121.3,156.9 121.6,156.4 121.8,157.2 122.1,157.0 122.3,156.4 122.6,157.6 122.8,154.0 123.1,156.5 123.3,157.9 123.6,152.5 123.8,156.0 124.1,155.1 124.3,155.6 124.6,157.5 124.8,155.9 125.1,155.3 125.3,154.2 125.6,154.1 125.8,157.1 126.1,154.9 126.3,156.4 126.6,157.3 126.8,151.9 127.1,156.5 127.3,157.3 127.6,156.3 127.8,156.5 128.1,157.1 128.3,155.7 128.6,154.8 128.8,155.7 129.1,158.5 129.3,152.9 129.6,156.0 129.8,153.6 130.1,157.8 130.3,156.8 130.6,154.9 130.8,157.9 131.1,153.6 131.3,153.7 131.6,155.4 131.8,159.2 132.1,155.6 132.3,157.7 132.6,158.4 132.8,157.8 133.1,157.4 133.3,157.3 133.6,155.7 133.8,154.9 134.1,156.8 134.3,154.4 134.6,156.6 134.8,157.8 135.1,154.2 135.3,153.0 135.6,154.7 135.8,155.8 136.1,155.2 136.3,156.6 136.6,155.0 136.8,156.7 137.1,154.2 137.3,160.0 137.6,157.2 137.8,157.3 138.1,156.1 138.3,157.7 138.6,155.6 138.8,156.1 139.1,155.2 139.3,153.9 139.6,153.9 139.8,158.1 140.1,154.6 140.3,156.3 140.6,155.6 140.8,156.4 141.1,153.8 141.3,152.6 141.6,154.9 141.8,156.5 142.1,153.9 142.3,154.0 142.6,153.6 142.8,153.1 143.1,156.3 143.3,153.7 143.6,158.1 143.8,158.1 144.1,155.2 144.3,156.8 144.6,155.6 144.8,152.2 145.1,156.0 145.3,153.9 145.6,154.6 145.8,154.6 146.1,157.0 146.3,155.8 146.6,155.6 146.8,153.3 147.1,156.2 147.3,156.7 147.6,154.4 147.8,159.2 148.1,155.9 148.3,157.3 148.6,156.3 148.8,155.1 149.1,157.9 149.3,157.6 149.6,153.6 149.8,157.6 150.1,154.9 150.3,152.4 150.6,154.9 150.8,153.4 151.1,156.2 151.3,155.4 151.6,154.0 151.8,157.5 152.1,155.7 152.3,157.2 152.6,155.6 152.8,156.4 153.1,155.5 153.3,159.1 153.6,153.7 153.8,155.3 154.1,156.4 154.3,157.7 154.6,160.6 154.8,155.1 155.1,158.8 155.3,154.1 155.6,156.2 155.8,157.7 156.1,156.6 156.3,157.1 156.6,155.0 156.8,160.4 157.1,158.8 157.3,157.0 157.6,159.2 157.8,156.0 158.1,158.1 158.3,155.1 158.6,153.0 158.8,157.0 159.1,155.5 159.3,156.4 159.6,153.4 159.8,157.5 160.1,157.6 160.3,157.2 160.6,155.1 160.8,153.8 161.1,159.4 161.3,154.4 161.6,154.3 161.8,158.2 162.1,154.3 162.3,155.3 162.6,154.7 162.8,157.7 163.1,155.7 163.3,158.1 163.6,154.1 163.8,154.1 164.1,156.2 164.3,154.2 164.6,156.7 164.8,154.9 165.1,154.3 165.3,153.6 165.6,156.6 165.8,157.4 166.1,155.3 166.3,158.5 166.6,156.2 166.8,159.1 167.1,157.4 167.3,156.9 167.6,157.4 167.8,153.5 168.1,160.2 168.3,158.5 168.6,156.3 168.8,155.0 169.1,159.2 169.3,156.4 169.6,158.5 169.8,157.7 170.1,154.7 170.3,158.3 170.6,157.9 170.8,157.8 171.1,155.8 171.3,157.7 171.6,156.9 171.8,153.9 172.1,154.6 172.3,155.3 172.6,158.2 172.8,154.9 173.1,156.3 173.3,159.1 173.6,158.0 173.8,154.7 174.1,156.6 174.3,155.8 174.6,159.1 174.8,154.7 175.1,158.6 175.3,157.4 175.6,154.4 175.8,159.7 176.1,157.4 176.3,155.2 176.6,159.4 176.8,159.0 177.1,158.0 177.3,156.2 177.6,156.3 177.8,159.5 178.1,156.2 178.3,158.9 178.6,156.7 178.8,157.3 179.1,157.9 179.3,157.3 179.6,156.5 179.8,156.4 180.1,156.9 180.3,157.1 180.6,156.1 180.8,155.5 181.1,155.7 181.3,154.5 181.6,158.5 181.8,155.6 182.1,156.7 182.3,155.9 182.6,156.4 182.8,156.9 183.1,156.5 183.3,156.0 183.6,154.3 183.8,154.9 184.1,160.1 184.3,158.4 184.6,159.6 184.8,157.5 185.1,155.1 185.3,156.6 185.6,156.6 185.8,156.2 186.1,157.9 186.3,157.2 186.6,157.6 186.8,161.5 187.1,157.7 187.3,157.9 187.6,159.0 187.8,157.4 188.1,155.9 188.3,158.9 188.6,160.1 188.8,156.2 189.1,154.4 189.3,159.9 189.6,156.2 189.8,160.6 190.1,157.7 190.3,157.6 190.6,154.5 190.8,157.2 191.1,156.4 191.3,155.2 191.6,155.2 191.8,158.1 192.1,155.7 192.3,159.8 192.6,156.2 192.8,155.3 193.1,153.8 193.3,157.0 193.6,153.5 193.8,158.1 194.1,156.3 194.3,158.7 194.6,153.8 194.8,155.0 195.1,158.8 195.3,155.0 195.6,155.6 195.8,156.0 196.1,157.4 196.3,155.6 196.6,158.3 196.8,153.7 197.1,156.3 197.3,159.2 197.6,159.2 197.8,154.2 198.1,155.6 198.3,155.5 198.6,156.3 198.8,159.4 199.1,155.5 199.3,156.0 199.6,156.5 199.8,155.7 200.1,156.4 200.3,158.9 200.6,158.4 200.8,156.0 201.1,152.9 201.3,154.9 201.6,152.8 201.8,154.9 202.1,154.5 202.3,152.2 202.6,149.4 202.8,151.7 203.1,151.6 203.3,149.9 203.6,148.2 203.8,149.9 204.1,145.5 204.3,146.8 204.6,150.2 204.8,151.1 205.1,150.5 205.3,149.4 205.6,151.3 205.8,153.2 206.1,152.1 206.3,155.1 206.6,154.6 206.8,152.0 207.1,156.5 207.3,156.6 207.6,152.5 207.8,155.1 208.1,157.0 208.3,153.7 208.6,154.0 208.8,155.1 209.1,157.8 209.3,154.9 209.6,157.0 209.8,156.5 210.1,155.9 210.3,154.9 210.6,152.1 210.8,157.7 211.1,158.2 211.3,152.1 211.6,156.1 211.8,153.3 212.1,154.7 212.3,153.9 212.6,153.4 212.8,154.9 213.1,156.4 213.3,152.8 213.6,155.3 213.8,154.0 214.1,155.5 214.3,153.6 214.6,152.3 214.8,149.6 215.1,149.0 215.3,151.0 215.6,145.2 215.8,148.2 216.1,145.2 216.3,143.3 216.6,141.9 216.8,137.1 217.1,134.6 217.3,134.9 217.6,133.3 217.8,127.3 218.1,125.2 218.3,121.7 218.6,119.5 218.8,123.9 219.1,122.0 219.3,124.9 219.6,126.2 219.8,128.4 220.1,132.4 220.3,136.3 220.6,137.4 220.8,140.3 221.1,141.4 221.3,145.7 221.6,145.9 221.8,148.1 222.1,148.3 222.3,149.5 222.6,153.0 222.8,155.3 223.1,156.4 223.3,151.6 223.6,154.2 223.8,152.9 224.1,155.8 224.3,153.4 224.6,156.6 224.8,153.5 225.1,154.6 225.3,153.8 225.6,154.1 225.8,156.7 226.1,156.6 226.3,154.5 226.6,158.4 226.8,157.7 227.1,157.2 227.3,156.3 227.6,153.9 227.8,155.9 228.1,154.7 228.3,158.9 228.6,157.0 228.8,154.4 229.1,158.7 229.3,154.9 229.6,158.8 229.8,154.8 230.1,154.8 230.3,155.7 230.6,160.4 230.8,154.2 231.1,155.4 231.3,156.4 231.6,157.5 231.8,156.7 232.1,155.8 232.3,156.3 232.6,157.1 232.8,155.6 233.1,155.5 233.3,155.2 233.6,155.0 233.8,157.3 234.1,159.2 234.3,158.9 234.6,159.1 234.8,153.5 235.1,156.5 235.3,156.1 235.6,159.3 235.8,159.1 236.1,158.5 236.3,156.1 236.6,160.0 236.8,157.4 237.1,156.0 237.3,155.7 237.6,159.8 237.8,156.3 238.1,155.3 238.3,154.8 238.6,157.2 238.8,156.8 239.1,154.6 239.3,155.7 239.6,158.1 239.8,157.7 240.1,159.5 240.3,156.3 240.6,156.6 240.8,155.0 241.1,156.1 241.3,157.7 241.6,157.4 241.8,154.3 242.1,154.5 242.3,158.2 242.6,156.3 242.8,153.5 243.1,156.0 243.3,156.0 243.6,154.8 243.8,158.5 244.1,158.2 244.3,156.2 244.6,157.3 244.8,157.5 245.1,156.6 245.3,155.3 245.6,154.6 245.8,156.0 246.1,159.9 246.3,158.8 246.6,157.3 246.8,157.0 247.1,155.9 247.3,155.5 247.6,154.5 247.8,153.1 248.1,155.5 248.3,156.4 248.6,159.2 248.8,157.1 249.1,157.9 249.3,156.5 249.6,157.0 249.8,153.8 250.1,157.4 250.3,154.2 250.6,155.9 250.8,154.5 251.1,155.7 251.3,158.8 251.6,157.9 251.8,155.8 252.1,156.0 252.3,155.8 252.6,157.6 252.8,155.8 253.1,157.2 253.3,155.5 253.6,155.7 253.8,155.3 254.1,157.6 254.3,158.4 254.6,154.8 254.8,157.8 255.1,159.5 255.3,152.9 255.6,154.1 255.8,156.9 256.1,153.2 256.4,157.1 256.6,157.4 256.9,154.3 257.1,155.4 257.4,155.5 257.6,158.0 257.9,154.2 258.1,154.5 258.4,154.8 258.6,152.3 258.9,154.1 259.1,151.5 259.4,152.8 259.6,154.1 259.9,150.3 260.1,152.0 260.4,153.2 260.6,156.4 260.9,150.8 261.1,154.3 261.4,151.7 261.6,153.4 261.9,154.2 262.1,153.1 262.4,153.2 262.6,152.9 262.9,154.1 263.1,154.2 263.4,153.4 263.6,157.4 263.9,154.3 264.1,154.9 264.4,155.7 264.6,156.8 264.9,155.4 265.1,158.9 265.4,156.7 265.6,155.6 265.9,157.8 266.1,157.3 266.4,157.5 266.6,157.7 266.9,155.6 267.1,158.1 267.4,155.5 267.6,160.3 267.9,157.0 268.1,156.7 268.4,155.4 268.6,155.6 268.9,154.0 269.1,158.1 269.4,156.2 269.6,159.0 269.9,159.0 270.1,156.2 270.4,154.4 270.6,152.8 270.9,152.8 271.1,158.6 271.4,154.8 271.6,159.9 271.9,154.4 272.1,156.3 272.4,155.0 272.6,156.1 272.9,154.9 273.1,156.3 273.4,156.4 273.6,157.8 273.9,159.3 274.1,154.5 274.4,158.2 274.6,157.8 274.9,159.3 275.1,156.4 275.4,157.7 275.6,154.1 275.9,157.9 276.1,155.7 276.4,158.3 276.6,153.5 276.9,157.7 277.1,157.1 277.4,155.8 277.6,156.4 277.9,153.5 278.1,157.6 278.4,156.7 278.6,156.5 278.9,156.3 279.1,156.4 279.4,154.1 279.6,153.6 279.9,154.9 280.1,159.2 280.4,159.5 280.6,158.1 280.9,157.0 281.1,157.2 281.4,156.6 281.6,159.3 281.9,156.6 282.1,155.5 282.4,155.7 282.6,157.2 282.9,158.6 283.1,156.0 283.4,158.7 283.6,158.0 283.9,155.5 284.1,157.7 284.4,158.6 284.6,158.9 284.9,159.1 285.1,154.9 285.4,158.8 285.6,155.0 285.9,154.6 286.1,152.8 286.4,158.2 286.6,155.9 286.9,157.8 287.1,157.9 287.4,156.9 287.6,158.9 287.9,156.8 288.1,154.2 288.4,153.7 288.6,157.5 288.9,156.3 289.1,154.6 289.4,156.8 289.6,153.3 289.9,156.0 290.1,158.8 290.4,155.2 290.6,155.1 290.9,156.7 291.1,155.4 291.4,154.3 291.6,156.5 291.9,157.2 292.1,158.8 292.4,157.8 292.6,156.1 292.9,157.1 293.1,153.3 293.4,157.1 293.6,157.4 293.9,158.8 294.1,157.6 294.4,157.0 294.6,156.0 294.9,157.7 295.1,157.7 295.4,154.9 295.6,158.6 295.9,158.2 296.1,154.5 296.4,158.8 296.6,158.3 296.9,153.4 297.1,157.6 297.4,156.1 297.6,154.8 297.9,155.2 298.1,157.2 298.4,155.8 298.6,158.7 298.9,158.5 299.1,154.3 299.4,160.2 299.6,156.7 299.9,157.6 300.1,155.7 300.4,155.0 300.6,157.5 300.9,154.9 301.1,154.1 301.4,155.0 301.6,155.8 301.9,157.4 302.1,157.6 302.4,154.9 302.6,158.9 302.9,156.2 303.1,157.6 303.4,155.9 303.6,154.4 303.9,158.6 304.1,157.1 304.4,156.7 304.6,156.8 304.9,153.9 305.1,157.9 305.4,157.6 305.6,159.0 305.9,159.5 306.1,158.4 306.4,157.5 306.6,158.7 306.9,156.6 307.1,158.6 307.4,156.7 307.6,157.3 307.9,155.3 308.1,157.1 308.4,156.3 308.6,153.6 308.9,155.6 309.1,156.3 309.4,156.5 309.6,155.3 309.9,156.4 310.1,157.0 310.4,156.0 310.6,154.6 310.9,158.7 311.1,155.1 311.4,153.7 311.6,155.6 311.9,156.4 312.1,157.6 312.4,156.3 312.6,157.2 312.9,156.4 313.1,159.2 313.4,158.4 313.6,155.3 313.9,157.1 314.1,154.8 314.4,157.7 314.6,159.2 314.9,159.3 315.1,156.3 315.4,154.4 315.6,158.9 315.9,156.4 316.1,157.9 316.4,153.7 316.6,156.8 316.9,153.3 317.1,156.0 317.4,155.7 317.6,157.0 317.9,155.3 318.1,156.9 318.4,157.0 318.6,154.9 318.9,155.8 319.1,155.0 319.4,158.0 319.6,159.7 319.9,158.3 320.1,159.0 320.4,157.1 320.6,155.4 320.9,157.9 321.1,159.0 321.4,154.0 321.6,157.2 321.9,157.0 322.1,155.2 322.4,159.6 322.6,154.5 322.9,157.5 323.1,156.6 323.4,159.4 323.6,157.6 323.9,157.6 324.1,157.6 324.4,154.8 324.6,158.1 324.9,157.0 325.1,153.3 325.4,153.7 325.6,158.2 325.9,152.9 326.1,159.1 326.4,158.5 326.6,154.9 326.9,159.0 327.1,153.8 327.4,157.5 327.6,155.3 327.9,159.1 328.1,154.1 328.4,156.8 328.6,155.8 328.9,159.0 329.1,155.0 329.4,157.3 329.6,155.1 329.9,155.6 330.1,157.6 330.4,154.5 330.6,156.9 330.9,153.9 331.1,158.1 331.4,158.0 331.6,157.7 331.9,153.3 332.1,155.7 332.4,155.4 332.6,152.3 332.9,153.1 333.1,151.4 333.4,152.5 333.6,150.5 333.9,151.8 334.1,151.5 334.4,153.5 334.6,154.4 334.9,152.8 335.1,153.0 335.4,153.8 335.6,155.3 335.9,155.0 336.1,156.3 336.4,152.5 336.6,155.5 336.9,156.5 337.1,157.7 337.4,155.0 337.6,152.9 337.9,158.2 338.1,156.5 338.4,156.0 338.6,157.4 338.9,154.3 339.1,158.4 339.4,153.9 339.6,157.0 339.9,156.5 340.1,155.0 340.4,158.2 340.6,156.2 340.9,157.7 341.1,157.6 341.4,155.9 341.6,155.0 341.9,157.9 342.1,157.1 342.4,155.2 342.6,156.2 342.9,154.6 343.1,156.8 343.4,155.0 343.6,155.2 343.9,156.7 344.1,156.8 344.4,156.7 344.6,157.0 344.9,157.8 345.1,156.6 345.4,154.0 345.6,155.6 345.9,158.5 346.1,153.5 346.4,155.1 346.6,157.3 346.9,156.9 347.1,158.2 347.4,155.9 347.6,159.2 347.9,155.5 348.1,157.3 348.4,158.4 348.6,158.6 348.9,155.7 349.1,155.4 349.4,155.1 349.6,154.6 349.9,158.2 350.1,158.6 350.4,156.4 350.6,156.4 350.9,155.9 351.1,156.8 351.4,156.1 351.6,156.7 351.9,156.7 352.1,159.0 352.4,157.0 352.6,158.1 352.9,156.0 353.1,155.4 353.4,158.8 353.6,157.3 353.9,153.4 354.1,155.7 354.4,154.1 354.6,157.9 354.9,156.7 355.1,158.6 355.4,159.3 355.6,154.1 355.9,156.4 356.1,158.4 356.4,154.5 356.6,158.5 356.9,155.3 357.1,155.7 357.4,156.1 357.6,155.7 357.9,157.6 358.1,158.5 358.4,155.2 358.6,152.2 358.9,154.4 359.1,159.4 359.4,158.2 359.6,158.3 359.9,155.5 360.1,153.4 360.4,156.1 360.6,157.7 360.9,157.7 361.1,156.3 361.4,155.5 361.6,157.9 361.9,158.8 362.1,156.4 362.4,155.4 362.6,154.8 362.9,154.9 363.1,154.5 363.4,154.9 363.6,156.7 363.9,159.2 364.1,156.1 364.4,155.3 364.6,157.5 364.9,154.0 365.1,155.6 365.4,155.8 365.6,158.8 365.9,156.3 366.1,157.1 366.4,155.5 366.6,153.7 366.9,157.6 367.1,157.0 367.4,156.8 367.6,157.2 367.9,157.6 368.1,157.9 368.4,155.2 368.6,153.6 368.9,154.4 369.1,154.8 369.4,158.6 369.6,156.2 369.9,154.3 370.1,155.4 370.4,155.2 370.6,155.7 370.9,157.0 371.1,159.3 371.4,156.0 371.6,159.0 371.9,155.0 372.1,155.8 372.4,157.7 372.6,157.4 372.9,155.6 373.1,159.8 373.4,157.5 373.6,155.7 373.9,154.1 374.1,154.6 374.4,155.4 374.6,156.9 374.9,155.4 375.1,153.3 375.4,155.0 375.6,153.6 375.9,154.5 376.1,155.0 376.4,153.7 376.6,158.1 376.9,154.1 377.1,153.2 377.4,158.3 377.6,154.8 377.9,157.3 378.1,156.3 378.4,156.4 378.6,156.7 378.9,157.3 379.1,155.6 379.4,156.9 379.6,155.9 379.9,155.5 380.1,157.0 380.4,157.0 380.6,158.8 380.9,156.8 381.1,158.3 381.4,155.0 381.6,158.3 381.9,155.5 382.1,158.5 382.4,155.8 382.6,158.5 382.9,160.0 383.1,159.0 383.4,155.9 383.6,157.2 383.9,157.6 384.1,154.7 384.4,158.6 384.6,158.1 384.9,155.9 385.1,155.4 385.4,156.5 385.6,156.5 385.9,155.5 386.1,154.2 386.4,159.6 386.6,155.2 386.9,158.6 387.1,157.8 387.4,157.6 387.6,155.2 387.9,154.9 388.1,154.6 388.4,157.2 388.6,154.7 388.9,154.3 389.1,158.5 389.4,156.3 389.6,155.9 389.9,158.4 390.1,157.7 390.4,155.6 390.6,153.6 390.9,156.0 391.1,156.5 391.4,157.2 391.6,159.1 391.9,154.4 392.1,155.4 392.4,155.4 392.6,157.7 392.9,157.3 393.1,160.2 393.4,154.3 393.6,158.2 393.9,154.5 394.1,154.1 394.4,156.5 394.6,157.6 394.9,157.8 395.1,152.3 395.4,155.5 395.6,158.7 395.9,155.4 396.1,155.3 396.4,153.9 396.6,155.1 396.9,155.8 397.1,157.9 397.4,153.7 397.6,158.0 397.9,154.8 398.1,156.0 398.4,153.2 398.6,153.8 398.9,155.5 399.1,154.6 399.4,154.9 399.6,155.2 399.9,152.9 400.1,154.3 400.4,156.6 400.6,159.0 400.9,154.9 401.1,158.4 401.4,157.1 401.6,154.2 401.9,155.7 402.1,156.8 402.4,152.4 402.6,154.5 402.9,155.6 403.1,154.4 403.4,157.5 403.6,156.6 403.9,154.8 404.1,158.6 404.4,156.1 404.6,158.5 404.9,157.1 405.1,155.0 405.4,154.0 405.6,156.6 405.9,152.1 406.1,158.5 406.4,156.4 406.6,157.2 406.9,155.6 407.1,156.6 407.4,157.7 407.6,157.1 407.9,157.7 408.1,154.4 408.4,154.8 408.6,155.2 408.9,154.4 409.1,158.4 409.4,158.1 409.6,157.6 409.9,155.2 410.1,155.4 410.4,158.4 410.6,152.9 410.9,153.3 411.1,153.6 411.4,159.4 411.6,158.3 411.9,156.1 412.1,154.3 412.4,156.0 412.6,154.3 412.9,155.1 413.1,154.6 413.4,157.7 413.6,156.3 413.9,155.8 414.1,155.5 414.4,157.5 414.6,154.5 414.9,157.7 415.1,156.6 415.4,154.5 415.6,155.5 415.9,157.4 416.1,156.0 416.4,159.6 416.6,156.2 416.9,158.1 417.1,157.8 417.4,156.0 417.6,153.4 417.9,159.3 418.1,156.7 418.4,156.4 418.6,160.5 418.9,154.2 419.1,159.0 419.4,156.1 419.6,155.3 419.9,154.8 420.1,155.7 420.4,157.6 420.6,157.4 420.9,155.2 421.1,157.5 421.4,158.1 421.6,156.8 421.9,154.2 422.1,156.5 422.4,159.7 422.6,156.2 422.9,156.4 423.1,157.3 423.4,152.7 423.6,157.2 423.9,157.9 424.1,153.2 424.4,153.7 424.6,154.9 424.9,152.8 425.1,153.9 425.4,155.7 425.6,152.0 425.9,153.6 426.1,154.0 426.4,152.3 426.6,153.8 426.9,152.8 427.1,152.5 427.4,154.1 427.6,151.6 427.9,153.5 428.1,152.0 428.4,151.4 428.6,153.2 428.9,153.4 429.1,149.9 429.4,150.7 429.6,150.2 429.9,149.6 430.1,151.7 430.4,150.3 430.6,149.0 430.9,154.6 431.1,151.6 431.4,151.9 431.6,149.3 431.9,155.1 432.1,147.7 432.4,149.9 432.6,151.4 432.9,155.1 433.1,150.6 433.4,154.4 433.6,152.5 433.9,153.7 434.1,152.4 434.4,156.6 434.6,155.1 434.9,153.6 435.1,154.1 435.4,154.3 435.6,153.4 435.9,154.6 436.1,157.1 436.4,158.6 436.6,155.1 436.9,155.5 437.1,157.7 437.4,154.9 437.6,158.1 437.9,155.8 438.1,155.4 438.4,153.8 438.6,154.2 438.9,155.5 439.1,154.4 439.4,153.0 439.6,154.6 439.9,155.8 440.1,157.9 440.4,157.7 440.6,157.8 440.9,158.5 441.1,158.1 441.4,156.0 441.6,158.3 441.9,155.9 442.1,156.4 442.4,154.3 442.6,156.7 442.9,155.7 443.1,157.8 443.4,153.4 443.6,152.0 443.9,157.5 444.1,154.5 444.4,155.6 444.6,154.6 444.9,154.4 445.1,157.0 445.4,154.2 445.6,153.8 445.9,156.1 446.1,156.4 446.4,158.7 446.6,158.8 446.9,154.5 447.1,157.9 447.4,154.1 447.6,154.3 447.9,155.3 448.1,156.9 448.4,155.3 448.6,157.8 448.9,157.6 449.1,154.0 449.4,158.1 449.6,155.8 449.9,158.1 450.1,153.2 450.4,158.3 450.6,155.3 450.9,158.4 451.1,155.8 451.4,155.3 451.6,155.9 451.9,154.2 452.1,154.3 452.4,157.2 452.6,157.1 452.9,156.1 453.1,158.3 453.4,153.9 453.6,153.3 453.9,158.0 454.1,157.6 454.4,156.4 454.6,158.8 454.9,158.4 455.1,157.3 455.4,157.8 455.6,156.8 455.9,156.6 456.1,156.0 456.4,154.5 456.6,157.4 456.9,156.4 457.1,153.8 457.4,157.2 457.6,155.2 457.9,157.1 458.1,154.4 458.4,153.6 458.6,155.3 458.9,158.3 459.1,153.9 459.4,153.2 459.6,154.9 459.9,155.9 460.1,156.9 460.4,156.8 460.6,154.7 460.9,158.3 461.1,155.9 461.4,157.0 461.6,155.1 461.9,154.7 462.1,157.3 462.4,157.5 462.6,157.9 462.9,154.9 463.1,158.2 463.4,155.3 463.6,154.8 463.9,155.4 464.1,153.8 464.4,159.3 464.6,158.4 464.9,157.5 465.1,158.6 465.4,154.1 465.6,155.9 465.9,155.8 466.1,152.1 466.4,156.1 466.6,155.0 466.9,157.3 467.1,154.5 467.4,155.8 467.6,156.1 467.9,158.1 468.1,154.9 468.4,157.8 468.6,155.3 468.9,159.5 469.1,159.7 469.4,153.3 469.6,155.0 469.9,155.3 470.1,155.1 470.4,154.9 470.6,157.7 470.9,159.2 471.1,159.0 471.4,157.8 471.6,154.8 471.9,157.7 472.1,160.2 472.4,158.0 472.6,157.5 472.9,154.2 473.1,156.0 473.4,156.0 473.6,158.8 473.9,156.4 474.1,156.0 474.4,156.0 474.6,157.5 474.9,154.8 475.1,154.5 475.4,154.7 475.6,155.6 475.9,155.1 476.1,154.2 476.4,154.0 476.6,154.1 476.9,159.8 477.1,157.6 477.4,156.0 477.6,156.5 477.9,158.0 478.1,156.3 478.4,156.5 478.6,157.3 478.9,155.6 479.1,156.9 479.4,154.4 479.6,154.6 479.9,156.0 480.1,155.5 480.4,153.2 480.6,153.9 480.9,154.9 481.1,155.9 481.4,152.7 481.6,154.8 481.9,157.3 482.1,155.2 482.4,156.9 482.6,153.8 482.9,158.1 483.1,153.2 483.4,156.7 483.6,153.9 483.9,154.6 484.1,157.2 484.4,154.9 484.6,158.0 484.9,154.5 485.1,153.9 485.4,157.6 485.6,153.2 485.9,155.2 486.1,154.2 486.4,155.1 486.6,154.7 486.9,157.5 487.1,154.8 487.4,160.1 487.6,158.2 487.9,154.9 488.1,155.0 488.4,155.6 488.6,158.3 488.9,157.4 489.1,153.3 489.4,155.3 489.6,154.9 489.9,153.9 490.1,157.0 490.4,155.7 490.6,154.3 490.9,157.5 491.1,153.0 491.4,154.9 491.6,155.1 491.9,153.1 492.1,155.7 492.4,157.2 492.6,155.1 492.9,153.7 493.1,153.5 493.4,152.6 493.6,156.5 493.9,153.2 494.1,155.3 494.4,155.4 494.6,153.2 494.9,152.7 495.1,155.1 495.4,155.5 495.6,154.6 495.9,156.9 496.1,153.8 496.4,154.1 496.6,155.7 496.9,151.9 497.1,152.8 497.4,155.8 497.6,155.1 497.9,154.1 498.1,154.5 498.4,154.3 498.6,153.3 498.9,153.9 499.1,153.6 499.4,157.2 499.6,150.8 499.9,156.9 500.1,153.4 500.4,152.8 500.6,154.2 500.9,155.3 501.1,154.3 501.4,154.6 501.6,153.9 501.9,154.3 502.1,154.9 502.4,153.0 502.6,154.3 502.9,153.3 503.1,154.1 503.4,158.2 503.6,154.6 503.9,156.8 504.1,156.9 504.4,153.3 504.6,153.6 504.9,156.6 505.1,155.2 505.4,153.4 505.6,154.6 505.9,153.2 506.1,157.0 506.4,153.9 506.6,151.6 506.9,153.4 507.1,154.7 507.4,157.8 507.6,158.5 507.9,156.0 508.1,155.1 508.4,153.2 508.6,152.5 508.9,156.8 509.1,155.9 509.4,155.5 509.6,155.2 509.9,157.5 510.1,155.3 510.4,152.0 510.6,156.3 510.9,155.4 511.1,154.6 511.4,156.4 511.6,157.7 511.9,156.4 512.1,157.0 512.4,154.4 512.6,155.4 512.9,158.4 513.1,158.8 513.4,157.6 513.6,157.2 513.9,156.9 514.1,154.3 514.4,151.8 514.6,155.0 514.9,156.8 515.1,156.8 515.4,153.9 515.6,153.4 515.9,154.5 516.1,156.6 516.4,156.5 516.6,157.1 516.9,155.0 517.1,154.9 517.4,159.2 517.6,154.4 517.9,156.5 518.1,156.4 518.4,159.0 518.6,157.0 518.9,156.4 519.1,156.5 519.4,154.5 519.6,156.8 519.9,156.8 520.1,154.6 520.4,156.9 520.6,157.0 520.9,157.9 521.1,154.5 521.4,156.9 521.6,155.5 521.9,156.8 522.1,155.4 522.4,156.2 522.6,153.8 522.9,155.6 523.1,154.5 523.4,154.4 523.6,154.9 523.9,152.2 524.1,152.9 524.4,154.3 524.6,157.0 524.9,154.5 525.1,155.3 525.4,153.6 525.6,154.7 525.9,155.4 526.1,155.1 526.4,156.1 526.6,156.1 526.9,156.1 527.1,157.9 527.4,156.5 527.6,153.0 527.9,157.0 528.1,154.1 528.4,152.3 528.6,153.8 528.9,156.3 529.1,153.4 529.4,157.7 529.6,156.5 529.9,156.1 530.1,156.6 530.4,157.2 530.6,154.0 530.9,156.2 531.1,154.4 531.4,156.9 531.6,153.1 531.9,158.4 532.1,157.8 532.4,158.0 532.6,154.5 532.9,156.5 533.1,157.6 533.4,152.7 533.6,156.3 533.9,153.5 534.1,153.8 534.4,154.5 534.6,156.0 534.9,154.8 535.1,158.0 535.4,155.4 535.6,158.5 535.9,157.2 536.1,153.5"/>
<polyline fill="none" stroke="#0000FF" stroke-width="3.2" stroke-linejoin="round" stroke-linecap="round" points="79.6,192.7 79.8,187.9 80.1,190.1 80.3,191.3 80.6,188.8 80.8,190.0 81.1,187.4 81.3,189.7 81.6,188.4 81.8,194.2 82.1,192.0 82.3,189.3 82.6,191.2 82.8,191.0 83.1,191.0 83.3,190.9 83.6,189.4 83.8,190.6 84.1,189.9 84.3,190.0 84.6,188.4 84.8,189.3 85.1,192.4 85.3,189.7 85.6,190.1 85.8,191.2 86.1,189.7 86.3,190.7 86.6,191.0 86.8,189.1 87.1,190.9 87.3,190.1 87.6,191.0 87.8,189.9 88.1,188.4 88.3,189.5 88.6,186.9 88.8,192.3 89.1,190.1 89.3,190.9 89.6,189.2 89.8,192.0 90.1,190.7 90.3,189.4 90.6,191.3 90.8,188.9 91.1,192.4 91.3,190.0 91.6,190.7 91.8,192.0 92.1,189.1 92.3,191.7 92.6,189.3 92.8,192.6 93.1,192.3 93.3,191.3 93.6,190.5 93.8,190.0 94.1,191.7 94.3,193.1 94.6,190.3 94.8,189.2 95.1,190.2 95.3,189.6 95.6,189.4 95.8,188.6 96.1,191.4 96.3,193.1 96.6,187.4 96.8,190.1 97.1,189.5 97.3,190.0 97.6,191.9 97.8,188.4 98.1,190.8 98.3,191.4 98.6,192.3 98.8,189.9 99.1,190.9 99.3,188.3 99.6,191.4 99.8,191.9 100.1,190.8 100.3,192.8 100.6,190.4 100.8,192.5 101.1,192.6 101.3,192.6 101.6,193.9 101.8,191.2 102.1,192.9 102.3,190.0 102.6,190.1 102.8,191.5 103.1,192.9 103.3,190.4 103.6,192.0 103.8,191.6 104.1,192.5 104.3,193.0 104.6,191.8 104.8,190.0 105.1,190.9 105.3,191.9 105.6,189.5 105.8,189.8 106.1,192.4 106.3,190.0 106.6,190.9 106.8,194.0 107.1,194.0 107.3,191.8 107.6,188.4 107.8,193.2 108.1,192.0 108.3,193.3 108.6,190.8 108.8,193.5 109.1,190.8 109.3,189.3 109.6,192.8 109.8,190.5 110.1,192.5 110.3,193.3 110.6,193.6 110.8,190.0 111.1,192.9 111.3,192.0 111.6,192.5 111.8,192.4 112.1,193.4 112.3,189.3 112.6,191.4 112.8,190.2 113.1,193.2 113.3,191.2 113.6,191.5 113.8,191.5 114.1,190.9 114.3,190.4 114.6,191.6 114.8,192.8 115.1,195.6 115.3,192.3 115.6,191.8 115.8,193.1 116.1,192.9 116.3,192.4 116.6,192.5 116.8,193.8 117.1,191.6 117.3,193.4 117.6,190.7 117.8,189.5 118.1,190.8 118.3,192.2 118.6,191.0 118.8,190.6 119.1,189.8 119.3,190.2 119.6,194.6 119.8,193.2 120.1,193.4 120.3,193.6 120.6,193.2 120.8,193.6 121.1,191.8 121.3,192.9 121.6,193.8 121.8,191.6 122.1,193.1 122.3,194.7 122.6,193.8 122.8,193.9 123.1,195.0 123.3,192.1 123.6,192.4 123.8,191.6 124.1,192.0 124.3,196.4 124.6,191.8 124.8,196.3 125.1,194.4 125.3,193.8 125.6,191.6 125.8,195.0 126.1,194.5 126.3,192.5 126.6,191.5 126.8,192.8 127.1,191.5 127.3,192.8 127.6,190.8 127.8,191.1 128.1,192.0 128.3,193.3 128.6,195.3 128.8,191.8 129.1,195.0 129.3,195.3 129.6,196.4 129.8,193.4 130.1,192.9 130.3,191.8 130.6,191.2 130.8,192.8 131.1,191.0 131.3,193.4 131.6,191.4 131.8,192.6 132.1,193.0 132.3,190.7 132.6,195.0 132.8,193.8 133.1,192.1 133.3,194.5 133.6,195.2 133.8,194.4 134.1,191.8 134.3,193.6 134.6,192.7 134.8,194.7 135.1,192.0 135.3,193.1 135.6,193.9 135.8,190.0 136.1,195.0 136.3,194.0 136.6,192.7 136.8,194.0 137.1,195.0 137.3,190.1 137.6,194.9 137.8,192.4 138.1,193.5 138.3,192.2 138.6,193.1 138.8,193.4 139.1,192.9 139.3,192.1 139.6,192.2 139.8,190.9 140.1,194.0 140.3,193.7 140.6,190.8 140.8,191.0 141.1,195.0 141.3,193.1 141.6,191.6 141.8,193.0 142.1,194.6 142.3,194.2 142.6,195.4 142.8,192.8 143.1,193.6 143.3,191.7 143.6,195.0 143.8,194.2 144.1,197.0 144.3,192.6 144.6,193.5 144.8,191.9 145.1,194.0 145.3,195.1 145.6,193.1 145.8,193.1 146.1,196.4 146.3,194.7 146.6,192.4 146.8,193.8 147.1,193.9 147.3,194.6 147.6,195.7 147.8,196.1 148.1,192.4 148.3,191.8 148.6,195.0 148.8,196.1 149.1,192.0 149.3,193.9 149.6,195.1 149.8,195.8 150.1,194.0 150.3,194.3 150.6,194.5 150.8,193.8 151.1,195.8 151.3,193.2 151.6,194.4 151.8,193.4 152.1,194.8 152.3,192.3 152.6,196.3 152.8,194.7 153.1,196.3 153.3,194.4 153.6,196.1 153.8,192.0 154.1,191.6 154.3,195.4 154.6,194.1 154.8,192.4 155.1,191.8 155.3,193.3 155.6,191.4 155.8,193.6 156.1,191.5 156.3,195.7 156.6,191.7 156.8,193.2 157.1,194.9 157.3,192.3 157.6,191.3 157.8,195.1 158.1,196.0 158.3,195.5 158.6,195.3 158.8,193.1 159.1,191.9 159.3,193.3 159.6,193.8 159.8,195.1 160.1,193.1 160.3,192.5 160.6,192.1 160.8,192.0 161.1,193.2 161.3,193.8 161.6,193.8 161.8,196.9 162.1,194.0 162.3,195.7 162.6,195.0 162.8,196.5 163.1,193.7 163.3,195.5 163.6,195.8 163.8,191.5 164.1,195.8 164.3,195.1 164.6,194.4 164.8,193.4 165.1,193.0 165.3,194.0 165.6,192.8 165.8,193.8 166.1,196.8 166.3,196.6 166.6,192.4 166.8,195.3 167.1,195.9 167.3,193.1 167.6,196.5 167.8,194.7 168.1,194.7 168.3,192.6 168.6,194.9 168.8,197.3 169.1,194.8 169.3,197.0 169.6,193.8 169.8,194.5 170.1,195.9 170.3,194.1 170.6,193.7 170.8,194.6 171.1,195.6 171.3,195.3 171.6,195.1 171.8,196.0 172.1,196.9 172.3,195.8 172.6,193.3 172.8,195.8 173.1,193.9 173.3,197.1 173.6,194.9 173.8,194.6 174.1,196.2 174.3,195.6 174.6,196.1 174.8,196.4 175.1,195.1 175.3,192.7 175.6,193.7 175.8,192.8 176.1,193.9 176.3,195.9 176.6,192.1 176.8,192.6 177.1,195.1 177.3,193.4 177.6,194.7 177.8,195.1 178.1,193.8 178.3,191.6 178.6,193.7 178.8,193.2 179.1,192.0 179.3,194.9 179.6,194.2 179.8,195.3 180.1,193.0 180.3,193.1 180.6,191.7 180.8,193.8 181.1,192.9 181.3,194.2 181.6,195.2 181.8,196.0 182.1,194.8 182.3,193.5 182.6,191.7 182.8,193.2 183.1,193.3 183.3,194.6 183.6,190.0 183.8,192.9 184.1,190.8 184.3,189.2 184.6,192.8 184.8,190.3 185.1,193.1 185.3,192.7 185.6,190.1 185.8,191.5 186.1,193.3 186.3,191.5 186.6,190.8 186.8,193.2 187.1,192.3 187.3,192.7 187.6,191.1 187.8,194.2 188.1,194.1 188.3,191.7 188.6,195.6 188.8,195.0 189.1,193.7 189.3,195.1 189.6,191.6 189.8,192.5 190.1,193.5 190.3,192.5 190.6,196.1 190.8,192.5 191.1,194.4 191.3,194.6 191.6,195.3 191.8,194.5 192.1,193.0 192.3,196.7 192.6,192.6 192.8,192.8 193.1,195.1 193.3,196.7 193.6,194.5 193.8,193.0 194.1,194.3 194.3,195.5 194.6,196.5 194.8,192.7 195.1,195.9 195.3,195.6 195.6,195.0 195.8,195.3 196.1,194.5 196.3,195.0 196.6,195.4 196.8,194.5 197.1,192.8 197.3,192.4 197.6,192.2 197.8,192.8 198.1,190.9 198.3,192.4 198.6,190.6 198.8,191.4 199.1,192.1 199.3,190.8 199.6,195.3 199.8,193.9 200.1,189.8 200.3,190.1 200.6,194.1 200.8,192.5 201.1,190.0 201.3,189.1 201.6,190.3 201.8,189.7 202.1,189.8 202.3,191.9 202.6,191.8 202.8,190.9 203.1,189.2 203.3,190.2 203.6,190.3 203.8,188.4 204.1,186.3 204.3,187.4 204.6,188.1 204.8,188.2 205.1,187.4 205.3,190.8 205.6,188.2 205.8,190.3 206.1,192.2 206.3,191.5 206.6,191.8 206.8,189.4 207.1,190.2 207.3,190.3 207.6,191.1 207.8,192.6 208.1,190.7 208.3,191.1 208.6,194.6 208.8,195.4 209.1,192.9 209.3,193.5 209.6,192.2 209.8,193.2 210.1,192.4 210.3,193.3 210.6,191.2 210.8,192.3 211.1,192.3 211.3,193.5 211.6,194.6 211.8,193.4 212.1,190.1 212.3,190.8 212.6,192.2 212.8,192.2 213.1,191.0 213.3,188.2 213.6,190.1 213.8,190.6 214.1,190.3 214.3,190.8 214.6,190.4 214.8,190.2 215.1,185.3 215.3,189.3 215.6,184.1 215.8,184.6 216.1,182.5 216.3,181.0 216.6,180.3 216.8,180.8 217.1,175.8 217.3,174.9 217.6,175.0 217.8,172.1 218.1,175.5 218.3,170.1 218.6,169.4 218.8,171.8 219.1,169.1 219.3,172.9 219.6,174.2 219.8,175.1 220.1,174.5 220.3,175.5 220.6,177.9 220.8,180.1 221.1,182.1 221.3,181.3 221.6,184.0 221.8,185.3 222.1,186.2 222.3,188.9 222.6,189.7 222.8,190.4 223.1,189.6 223.3,189.8 223.6,190.1 223.8,192.8 224.1,195.0 224.3,192.6 224.6,191.0 224.8,192.8 225.1,190.7 225.3,192.9 225.6,195.3 225.8,193.1 226.1,193.1 226.3,195.5 226.6,191.5 226.8,192.0 227.1,193.7 227.3,193.5 227.6,193.4 227.8,192.3 228.1,192.8 228.3,193.9 228.6,195.7 228.8,191.7 229.1,194.2 229.3,193.6 229.6,194.0 229.8,192.0 230.1,195.0 230.3,193.0 230.6,195.0 230.8,192.9 231.1,195.6 231.3,194.9 231.6,193.0 231.8,190.9 232.1,192.1 232.3,193.5 232.6,193.8 232.8,195.0 233.1,195.1 233.3,192.4 233.6,193.6 233.8,196.0 234.1,195.8 234.3,194.4 234.6,193.5 234.8,194.8 235.1,192.0 235.3,192.1 235.6,195.3 235.8,195.0 236.1,196.0 236.3,194.8 236.6,195.5 236.8,193.5 237.1,193.2 237.3,193.6 237.6,196.8 237.8,193.1 238.1,193.9 238.3,195.4 238.6,193.5 238.8,194.7 239.1,195.0 239.3,192.8 239.6,191.8 239.8,194.4 240.1,191.0 240.3,194.8 240.6,196.5 240.8,193.0 241.1,195.4 241.3,193.3 241.6,194.3 241.8,192.5 242.1,194.7 242.3,193.0 242.6,195.0 242.8,192.6 243.1,192.8 243.3,195.9 243.6,192.0 243.8,193.6 244.1,195.1 244.3,196.7 244.6,195.5 244.8,194.5 245.1,190.9 245.3,191.9 245.6,193.7 245.8,194.9 246.1,196.7 246.3,194.7 246.6,195.1 246.8,192.6 247.1,192.8 247.3,194.4 247.6,195.6 247.8,192.3 248.1,195.1 248.3,197.6 248.6,196.0 248.8,195.1 249.1,192.3 249.3,192.9 249.6,193.7 249.8,195.0 250.1,193.7 250.3,194.1 250.6,191.6 250.8,193.3 251.1,193.7 251.3,195.6 251.6,195.0 251.8,194.9 252.1,193.9 252.3,196.0 252.6,193.2 252.8,193.6 253.1,192.6 253.3,194.4 253.6,192.7 253.8,195.6 254.1,194.2 254.3,193.2 254.6,192.6 254.8,194.5 255.1,194.9 255.3,196.5 255.6,193.1 255.8,194.3 256.1,194.9 256.4,192.4 256.6,193.4 256.9,192.2 257.1,194.5 257.4,194.8 257.6,192.4 257.9,193.6 258.1,193.5 258.4,193.1 258.6,192.5 258.9,194.1 259.1,196.3 259.4,192.1 259.6,195.8 259.9,192.4 260.1,195.4 260.4,191.7 260.6,192.0 260.9,192.0 261.1,193.3 261.4,196.1 261.6,193.5 261.9,191.4 262.1,191.7 262.4,195.5 262.6,193.8 262.9,196.1 263.1,194.7 263.4,194.4 263.6,194.8 263.9,193.0 264.1,193.5 264.4,191.7 264.6,196.1 264.9,191.9 265.1,194.7 265.4,192.6 265.6,193.4 265.9,195.3 266.1,195.1 266.4,193.3 266.6,193.8 266.9,190.9 267.1,195.4 267.4,193.5 267.6,195.4 267.9,195.0 268.1,192.8 268.4,196.2 268.6,194.3 268.9,193.3 269.1,194.3 269.4,195.9 269.6,191.5 269.9,193.5 270.1,193.9 270.4,195.5 270.6,195.4 270.9,192.7 271.1,193.7 271.4,192.6 271.6,193.5 271.9,194.2 272.1,193.7 272.4,195.6 272.6,195.1 272.9,192.8 273.1,194.2 273.4,195.1 273.6,194.4 273.9,191.5 274.1,194.5 274.4,196.0 274.6,194.3 274.9,196.5 275.1,192.6 275.4,194.1 275.6,195.2 275.9,193.8 276.1,192.5 276.4,193.2 276.6,194.8 276.9,196.5 277.1,195.8 277.4,194.7 277.6,192.8 277.9,195.1 278.1,195.6 278.4,192.3 278.6,192.1 278.9,193.6 279.1,193.2 279.4,192.9 279.6,195.0 279.9,193.6 280.1,194.3 280.4,192.6 280.6,194.4 280.9,192.1 281.1,196.1 281.4,196.7 281.6,195.4 281.9,194.9 282.1,193.5 282.4,195.4 282.6,192.4 282.9,191.7 283.1,195.0 283.4,194.6 283.6,194.5 283.9,194.2 284.1,192.5 284.4,193.2 284.6,196.2 284.9,194.7 285.1,193.6 285.4,193.3 285.6,197.9 285.9,195.5 286.1,192.2 286.4,195.1 286.6,195.1 286.9,195.2 287.1,192.5 287.4,194.0 287.6,194.8 287.9,194.7 288.1,194.0 288.4,194.6 288.6,194.0 288.9,192.6 289.1,194.5 289.4,192.9 289.6,194.8 289.9,196.0 290.1,195.1 290.4,192.5 290.6,195.7 290.9,193.8 291.1,195.0 291.4,195.6 291.6,196.4 291.9,196.1 292.1,193.9 292.4,193.9 292.6,195.7 292.9,194.8 293.1,195.4 293.4,193.7 293.6,193.5 293.9,192.3 294.1,195.2 294.4,192.7 294.6,193.6 294.9,195.3 295.1,196.5 295.4,194.0 295.6,196.6 295.9,194.4 296.1,192.5 296.4,193.1 296.6,192.9 296.9,195.1 297.1,195.2 297.4,196.9 297.6,195.6 297.9,192.1 298.1,194.6 298.4,192.5 298.6,192.9 298.9,195.3 299.1,193.0 299.4,193.1 299.6,195.8 299.9,192.6 300.1,193.4 300.4,192.1 300.6,196.4 300.9,193.5 301.1,192.2 301.4,192.5 301.6,193.7 301.9,195.0 302.1,192.0 302.4,192.6 302.6,194.0 302.9,194.9 303.1,193.5 303.4,195.5 303.6,194.1 303.9,193.2 304.1,192.4 304.4,194.9 304.6,196.4 304.9,195.1 305.1,193.0 305.4,193.0 305.6,193.3 305.9,191.2 306.1,193.6 306.4,192.5 306.6,194.0 306.9,192.1 307.1,194.2 307.4,192.3 307.6,193.5 307.9,193.5 308.1,196.5 308.4,195.0 308.6,194.6 308.9,197.6 309.1,194.3 309.4,192.5 309.6,195.4 309.9,196.7 310.1,191.3 310.4,191.6 310.6,191.8 310.9,194.2 311.1,197.0 311.4,192.7 311.6,194.5 311.9,193.6 312.1,193.2 312.4,192.6 312.6,192.6 312.9,193.0 313.1,194.5 313.4,192.5 313.6,196.1 313.9,194.7 314.1,195.1 314.4,194.1 314.6,194.4 314.9,193.2 315.1,196.0 315.4,194.4 315.6,194.5 315.9,195.4 316.1,195.0 316.4,195.8 316.6,196.2 316.9,194.5 317.1,195.7 317.4,194.6 317.6,196.2 317.9,195.1 318.1,192.1 318.4,194.3 318.6,195.2 318.9,193.1 319.1,194.9 319.4,193.4 319.6,195.7 319.9,193.1 320.1,194.0 320.4,196.4 320.6,196.1 320.9,195.1 321.1,191.7 321.4,193.8 321.6,194.1 321.9,194.5 322.1,196.8 322.4,195.5 322.6,192.8 322.9,195.1 323.1,194.8 323.4,193.5 323.6,193.3 323.9,194.1 324.1,193.1 324.4,194.8 324.6,191.7 324.9,192.5 325.1,194.4 325.4,193.6 325.6,195.2 325.9,193.7 326.1,193.3 326.4,193.7 326.6,195.3 326.9,194.3 327.1,194.8 327.4,193.7 327.6,193.7 327.9,198.0 328.1,193.4 328.4,194.8 328.6,192.6 328.9,192.4 329.1,194.4 329.4,190.7 329.6,191.7 329.9,194.4 330.1,190.7 330.4,192.7 330.6,192.2 330.9,195.0 331.1,191.3 331.4,190.4 331.6,193.9 331.9,194.1 332.1,193.3 332.4,192.4 332.6,191.7 332.9,193.9 333.1,192.4 333.4,193.8 333.6,191.6 333.9,190.1 334.1,189.4 334.4,192.7 334.6,192.0 334.9,190.4 335.1,190.4 335.4,192.0 335.6,193.4 335.9,190.9 336.1,194.2 336.4,192.2 336.6,194.3 336.9,193.9 337.1,193.2 337.4,191.7 337.6,193.5 337.9,192.5 338.1,192.4 338.4,191.9 338.6,195.6 338.9,196.3 339.1,195.6 339.4,192.7 339.6,192.5 339.9,194.6 340.1,193.9 340.4,195.6 340.6,194.5 340.9,193.4 341.1,193.2 341.4,193.9 341.6,192.5 341.9,191.6 342.1,194.6 342.4,195.9 342.6,193.6 342.9,194.3 343.1,195.7 343.4,194.9 343.6,194.1 343.9,193.9 344.1,193.0 344.4,193.7 344.6,194.3 344.9,194.7 345.1,193.7 345.4,195.0 345.6,193.1 345.9,192.1 346.1,195.0 346.4,193.3 346.6,191.5 346.9,194.9 347.1,195.3 347.4,197.3 347.6,196.0 347.9,192.4 348.1,196.0 348.4,195.6 348.6,196.1 348.9,192.4 349.1,193.2 349.4,196.1 349.6,194.9 349.9,195.0 350.1,193.3 350.4,193.8 350.6,193.2 350.9,196.6 351.1,193.2 351.4,195.7 351.6,194.6 351.9,194.9 352.1,194.3 352.4,192.2 352.6,192.3 352.9,194.4 353.1,193.5 353.4,192.4 353.6,193.3 353.9,194.5 354.1,195.4 354.4,195.4 354.6,191.1 354.9,190.6 355.1,196.3 355.4,193.8 355.6,190.9 355.9,191.0 356.1,195.1 356.4,191.2 356.6,195.4 356.9,194.6 357.1,192.8 357.4,194.5 357.6,195.9 357.9,193.5 358.1,193.2 358.4,194.8 358.6,194.2 358.9,196.2 359.1,193.6 359.4,193.8 359.6,195.0 359.9,196.1 360.1,195.1 360.4,196.7 360.6,194.4 360.9,195.7 361.1,191.9 361.4,192.7 361.6,193.5 361.9,194.8 362.1,192.3 362.4,191.4 362.6,193.9 362.9,195.0 363.1,196.1 363.4,193.6 363.6,192.9 363.9,195.4 364.1,193.5 364.4,194.1 364.6,193.5 364.9,190.9 365.1,193.5 365.4,196.6 365.6,194.6 365.9,193.0 366.1,194.8 366.4,193.3 366.6,195.6 366.9,194.0 367.1,195.5 367.4,195.7 367.6,195.8 367.9,194.1 368.1,193.8 368.4,196.6 368.6,193.9 368.9,193.3 369.1,195.1 369.4,193.5 369.6,194.6 369.9,196.1 370.1,195.0 370.4,194.5 370.6,194.7 370.9,194.1 371.1,194.9 371.4,192.0 371.6,196.1 371.9,195.3 372.1,195.0 372.4,196.5 372.6,196.5 372.9,191.4 373.1,194.3 373.4,195.9 373.6,196.1 373.9,192.8 374.1,195.4 374.4,194.8 374.6,194.7 374.9,194.8 375.1,193.4 375.4,192.8 375.6,193.6 375.9,195.8 376.1,194.4 376.4,192.5 376.6,195.3 376.9,194.5 377.1,195.4 377.4,194.7 377.6,193.5 377.9,193.4 378.1,191.8 378.4,193.7 378.6,195.5 378.9,196.5 379.1,193.0 379.4,196.1 379.6,194.1 379.9,194.2 380.1,194.5 380.4,193.6 380.6,194.0 380.9,193.6 381.1,194.5 381.4,195.8 381.6,195.4 381.9,193.3 382.1,193.6 382.4,194.0 382.6,192.6 382.9,195.2 383.1,195.6 383.4,191.1 383.6,192.6 383.9,193.2 384.1,194.5 384.4,193.1 384.6,194.5 384.9,193.6 385.1,195.0 385.4,194.0 385.6,192.1 385.9,194.0 386.1,194.8 386.4,196.1 386.6,194.3 386.9,194.5 387.1,192.9 387.4,194.0 387.6,193.0 387.9,191.4 388.1,194.7 388.4,193.1 388.6,194.2 388.9,191.3 389.1,194.2 389.4,192.9 389.6,195.8 389.9,194.4 390.1,195.8 390.4,191.8 390.6,191.7 390.9,195.3 391.1,192.8 391.4,195.6 391.6,195.9 391.9,194.8 392.1,195.6 392.4,194.0 392.6,193.0 392.9,194.5 393.1,193.3 393.4,194.6 393.6,196.0 393.9,195.5 394.1,194.2 394.4,194.5 394.6,195.4 394.9,194.4 395.1,194.5 395.4,194.0 395.6,194.6 395.9,194.9 396.1,195.1 396.4,191.4 396.6,190.8 396.9,195.6 397.1,192.7 397.4,194.9 397.6,193.3 397.9,194.0 398.1,194.2 398.4,194.9 398.6,193.7 398.9,193.6 399.1,194.0 399.4,193.4 399.6,193.7 399.9,195.5 400.1,195.1 400.4,193.8 400.6,195.6 400.9,194.3 401.1,194.3 401.4,194.6 401.6,194.0 401.9,194.5 402.1,191.7 402.4,194.0 402.6,194.0 402.9,195.6 403.1,194.8 403.4,194.5 403.6,195.8 403.9,195.6 404.1,194.7 404.4,194.3 404.6,193.6 404.9,194.1 405.1,196.1 405.4,193.0 405.6,193.0 405.9,195.1 406.1,195.5 406.4,194.0 406.6,194.8 406.9,195.8 407.1,194.2 407.4,191.4 407.6,193.3 407.9,194.5 408.1,193.9 408.4,192.0 408.6,193.8 408.9,195.1 409.1,195.6 409.4,194.9 409.6,194.7 409.9,197.3 410.1,193.0 410.4,194.5 410.6,195.4 410.9,193.7 411.1,192.4 411.4,193.6 411.6,194.2 411.9,193.8 412.1,192.4 412.4,191.5 412.6,193.3 412.9,195.8 413.1,192.6 413.4,191.5 413.6,195.8 413.9,192.8 414.1,194.3 414.4,195.3 414.6,193.3 414.9,195.5 415.1,193.2 415.4,194.1 415.6,194.8 415.9,194.0 416.1,192.8 416.4,193.4 416.6,195.0 416.9,193.0 417.1,193.0 417.4,191.0 417.6,191.4 417.9,192.3 418.1,192.8 418.4,194.8 418.6,193.4 418.9,190.0 419.1,194.1 419.4,192.2 419.6,195.2 419.9,194.6 420.1,193.5 420.4,194.7 420.6,193.4 420.9,191.0 421.1,194.5 421.4,191.3 421.6,192.7 421.9,194.9 422.1,191.6 422.4,193.9 422.6,191.4 422.9,194.1 423.1,191.9 423.4,192.7 423.6,191.8 423.9,190.8 424.1,193.7 424.4,192.0 424.6,193.4 424.9,193.8 425.1,194.2 425.4,191.7 425.6,191.3 425.9,191.2 426.1,193.7 426.4,191.5 426.6,190.8 426.9,190.6 427.1,195.3 427.4,191.3 427.6,190.7 427.9,193.2 428.1,190.8 428.4,192.1 428.6,193.1 428.9,190.4 429.1,193.9 429.4,189.5 429.6,191.6 429.9,192.1 430.1,190.8 430.4,190.9 430.6,191.9 430.9,188.9 431.1,189.7 431.4,190.3 431.6,189.4 431.9,191.4 432.1,190.9 432.4,191.8 432.6,190.8 432.9,192.1 433.1,192.2 433.4,191.5 433.6,192.4 433.9,190.7 434.1,193.8 434.4,194.0 434.6,193.7 434.9,192.0 435.1,193.8 435.4,192.1 435.6,191.0 435.9,192.0 436.1,191.1 436.4,191.8 436.6,194.0 436.9,195.0 437.1,194.6 437.4,194.5 437.6,192.9 437.9,190.2 438.1,195.4 438.4,192.0 438.6,195.9 438.9,193.8 439.1,191.0 439.4,195.3 439.6,192.5 439.9,192.3 440.1,194.2 440.4,192.0 440.6,193.0 440.9,192.1 441.1,196.3 441.4,195.1 441.6,193.9 441.9,191.9 442.1,197.0 442.4,194.1 442.6,196.3 442.9,194.7 443.1,194.4 443.4,192.7 443.6,193.0 443.9,193.7 444.1,192.5 444.4,192.3 444.6,193.2 444.9,195.4 445.1,195.8 445.4,192.9 445.6,195.2 445.9,193.3 446.1,192.9 446.4,195.5 446.6,194.8 446.9,194.8 447.1,194.9 447.4,193.1 447.6,192.1 447.9,192.6 448.1,191.6 448.4,193.8 448.6,194.3 448.9,193.9 449.1,194.0 449.4,194.4 449.6,194.6 449.9,193.0 450.1,192.2 450.4,193.7 450.6,194.3 450.9,194.4 451.1,193.3 451.4,192.9 451.6,194.5 451.9,191.7 452.1,194.0 452.4,195.2 452.6,195.4 452.9,194.4 453.1,194.9 453.4,194.6 453.6,191.7 453.9,191.6 454.1,192.0 454.4,193.2 454.6,191.0 454.9,193.2 455.1,195.2 455.4,194.2 455.6,192.6 455.9,193.8 456.1,192.9 456.4,193.2 456.6,194.3 456.9,195.2 457.1,193.9 457.4,191.1 457.6,192.7 457.9,190.9 458.1,195.0 458.4,191.7 458.6,193.4 458.9,194.8 459.1,195.4 459.4,193.4 459.6,195.0 459.9,192.4 460.1,194.7 460.4,193.0 460.6,192.1 460.9,193.5 461.1,193.7 461.4,192.6 461.6,191.7 461.9,195.2 462.1,191.6 462.4,192.5 462.6,195.9 462.9,195.6 463.1,194.3 463.4,195.0 463.6,193.5 463.9,193.8 464.1,192.0 464.4,194.5 464.6,195.3 464.9,193.7 465.1,195.8 465.4,192.2 465.6,191.7 465.9,195.1 466.1,190.9 466.4,193.3 466.6,194.5 466.9,192.2 467.1,193.8 467.4,196.3 467.6,193.4 467.9,192.9 468.1,191.8 468.4,194.6 468.6,193.8 468.9,195.7 469.1,195.4 469.4,196.6 469.6,195.1 469.9,192.6 470.1,194.7 470.4,197.0 470.6,195.5 470.9,194.4 471.1,196.5 471.4,195.2 471.6,194.6 471.9,195.3 472.1,194.8 472.4,193.7 472.6,195.4 472.9,195.2 473.1,191.8 473.4,192.0 473.6,194.7 473.9,192.8 474.1,194.1 474.4,193.6 474.6,195.1 474.9,194.5 475.1,192.7 475.4,192.3 475.6,191.2 475.9,193.0 476.1,194.7 476.4,193.0 476.6,193.9 476.9,193.7 477.1,194.1 477.4,192.9 477.6,193.9 477.9,194.3 478.1,193.2 478.4,192.7 478.6,193.3 478.9,193.5 479.1,192.3 479.4,195.1 479.6,190.7 479.9,194.7 480.1,194.9 480.4,196.8 480.6,190.6 480.9,194.5 481.1,191.6 481.4,191.7 481.6,193.5 481.9,195.0 482.1,193.6 482.4,194.6 482.6,192.3 482.9,190.9 483.1,191.2 483.4,193.3 483.6,190.8 483.9,195.2 484.1,194.2 484.4,195.0 484.6,196.1 484.9,194.8 485.1,192.1 485.4,192.2 485.6,196.0 485.9,193.3 486.1,194.4 486.4,195.0 486.6,194.1 486.9,195.8 487.1,194.8 487.4,194.3 487.6,193.3 487.9,195.6 488.1,196.9 488.4,194.3 488.6,196.2 488.9,192.7 489.1,192.4 489.4,194.1 489.6,193.9 489.9,194.6 490.1,191.5 490.4,194.8 490.6,195.5 490.9,192.0 491.1,192.6 491.4,194.8 491.6,193.3 491.9,190.8 492.1,195.2 492.4,194.7 492.6,193.8 492.9,194.1 493.1,195.0 493.4,192.6 493.6,192.3 493.9,194.3 494.1,192.0 494.4,193.9 494.6,192.9 494.9,192.3 495.1,192.0 495.4,193.7 495.6,195.0 495.9,192.4 496.1,194.4 496.4,194.7 496.6,194.8 496.9,194.2 497.1,191.6 497.4,194.5 497.6,191.5 497.9,195.0 498.1,189.6 498.4,193.5 498.6,194.6 498.9,194.4 499.1,192.7 499.4,191.6 499.6,194.6 499.9,192.9 500.1,195.2 500.4,192.8 500.6,194.6 500.9,191.3 501.1,196.5 501.4,191.8 501.6,194.4 501.9,193.3 502.1,192.0 502.4,194.1 502.6,192.5 502.9,197.4 503.1,196.8 503.4,195.4 503.6,194.4 503.9,196.0 504.1,195.5 504.4,196.3 504.6,192.5 504.9,194.7 505.1,191.4 505.4,193.6 505.6,195.6 505.9,193.9 506.1,192.2 506.4,195.2 506.6,193.5 506.9,191.8 507.1,191.1 507.4,193.4 507.6,194.3 507.9,192.6 508.1,194.5 508.4,192.0 508.6,195.2 508.9,192.9 509.1,193.8 509.4,192.0 509.6,193.5 509.9,194.8 510.1,194.3 510.4,191.0 510.6,192.6 510.9,193.3 511.1,192.1 511.4,191.3 511.6,193.8 511.9,192.5 512.1,195.0 512.4,194.2 512.6,195.3 512.9,192.4 513.1,193.3 513.4,194.7 513.6,194.1 513.9,193.9 514.1,193.9 514.4,192.3 514.6,195.7 514.9,192.9 515.1,196.3 515.4,192.0 515.6,193.4 515.9,193.3 516.1,195.0 516.4,192.6 516.6,193.0 516.9,190.8 517.1,195.5 517.4,192.2 517.6,192.1 517.9,194.6 518.1,193.0 518.4,192.8 518.6,192.6 518.9,193.0 519.1,192.5 519.4,192.0 519.6,191.0 519.9,192.1 520.1,194.4 520.4,194.3 520.6,194.8 520.9,191.8 521.1,191.2 521.4,195.3 521.6,190.1 521.9,193.2 522.1,190.4 522.4,191.1 522.6,193.3 522.9,191.5 523.1,190.8 523.4,191.6 523.6,193.6 523.9,194.2 524.1,194.3 524.4,194.5 524.6,193.7 524.9,192.6 525.1,193.4 525.4,190.5 525.6,194.1 525.9,193.8 526.1,192.1 526.4,195.6 526.6,196.2 526.9,196.0 527.1,192.4 527.4,191.8 527.6,195.0 527.9,191.7 528.1,192.9 528.4,193.7 528.6,194.4 528.9,193.5 529.1,194.1 529.4,192.3 529.6,194.1 529.9,192.4 530.1,196.0 530.4,194.8 530.6,194.1 530.9,195.1 531.1,192.3 531.4,195.2 531.6,195.0 531.9,190.4 532.1,193.0 532.4,194.8 532.6,194.1 532.9,195.2 533.1,193.0 533.4,194.8 533.6,191.7 533.9,196.7 534.1,196.1 534.4,194.1 534.6,194.9 534.9,196.6 535.1,192.8 535.4,193.4 535.6,194.2 535.9,193.0 536.1,192.8"/>
<polyline fill="none" stroke="#FF0000" stroke-width="3.2" stroke-linejoin="round" stroke-linecap="round" points="79.6,228.5 79.8,227.9 80.1,228.4 80.3,231.1 80.6,229.5 80.8,228.1 81.1,229.1 81.3,230.2 81.6,226.9 81.8,228.4 82.1,230.7 82.3,229.9 82.6,229.5 82.8,230.6 83.1,228.3 83.3,231.2 83.6,227.5 83.8,231.6 84.1,230.5 84.3,228.7 84.6,230.1 84.8,230.6 85.1,231.3 85.3,227.8 85.6,230.6 85.8,228.7 86.1,228.8 86.3,228.5 86.6,229.8 86.8,228.2 87.1,229.9 87.3,230.8 87.6,229.8 87.8,231.1 88.1,230.2 88.3,229.0 88.6,230.0 88.8,226.9 89.1,226.9 89.3,228.2 89.6,229.9 89.8,229.9 90.1,229.0 90.3,230.6 90.6,229.7 90.8,228.4 91.1,228.4 91.3,229.2 91.6,230.4 91.8,228.4 92.1,230.0 92.3,230.2 92.6,227.7 92.8,227.6 93.1,229.7 93.3,230.6 93.6,228.4 93.8,231.1 94.1,229.4 94.3,229.4 94.6,228.9 94.8,229.4 95.1,230.4 95.3,230.8 95.6,229.2 95.8,227.8 96.1,227.9 96.3,231.0 96.6,229.4 96.8,227.8 97.1,231.0 97.3,230.8 97.6,227.9 97.8,231.8 98.1,229.1 98.3,229.6 98.6,230.7 98.8,229.1 99.1,228.0 99.3,230.2 99.6,228.6 99.8,228.6 100.1,228.8 100.3,232.4 100.6,230.1 100.8,229.9 101.1,229.9 101.3,230.2 101.6,230.2 101.8,227.2 102.1,228.9 102.3,227.4 102.6,228.8 102.8,229.7 103.1,231.1 103.3,229.4 103.6,228.7 103.8,232.6 104.1,229.5 104.3,231.8 104.6,231.8 104.8,231.0 105.1,230.1 105.3,230.0 105.6,229.0 105.8,231.4 106.1,230.8 106.3,231.2 106.6,229.7 106.8,231.1 107.1,230.7 107.3,229.6 107.6,231.1 107.8,229.3 108.1,231.4 108.3,230.6 108.6,232.5 108.8,229.8 109.1,232.3 109.3,230.4 109.6,231.6 109.8,232.4 110.1,232.1 110.3,234.1 110.6,232.4 110.8,230.1 111.1,230.0 111.3,232.2 111.6,230.9 111.8,232.9 112.1,229.7 112.3,233.3 112.6,232.7 112.8,231.8 113.1,233.4 113.3,228.7 113.6,231.1 113.8,230.0 114.1,231.3 114.3,232.6 114.6,229.9 114.8,231.8 115.1,233.3 115.3,232.7 115.6,229.2 115.8,230.1 116.1,230.1 116.3,230.1 116.6,229.0 116.8,231.6 117.1,230.2 117.3,231.7 117.6,232.6 117.8,229.7 118.1,231.5 118.3,231.3 118.6,230.5 118.8,231.3 119.1,230.0 119.3,229.7 119.6,231.2 119.8,230.4 120.1,230.5 120.3,231.0 120.6,230.4 120.8,229.8 121.1,228.3 121.3,232.2 121.6,232.7 121.8,231.6 122.1,231.7 122.3,230.4 122.6,233.3 122.8,230.3 123.1,232.9 123.3,229.5 123.6,231.0 123.8,233.2 124.1,228.7 124.3,229.5 124.6,231.2 124.8,229.7 125.1,229.8 125.3,229.3 125.6,228.2 125.8,231.2 126.1,233.2 126.3,229.5 126.6,231.7 126.8,230.4 127.1,228.6 127.3,229.3 127.6,232.0 127.8,229.4 128.1,229.1 128.3,230.2 128.6,233.3 128.8,231.4 129.1,230.0 129.3,231.2 129.6,230.4 129.8,231.8 130.1,230.9 130.3,230.0 130.6,232.8 130.8,229.3 131.1,229.5 131.3,232.4 131.6,230.2 131.8,230.1 132.1,230.2 132.3,233.0 132.6,231.5 132.8,233.2 133.1,232.3 133.3,231.5 133.6,230.2 133.8,230.6 134.1,230.2 134.3,231.0 134.6,232.3 134.8,233.3 135.1,229.9 135.3,232.1 135.6,229.9 135.8,230.8 136.1,232.3 136.3,231.4 136.6,230.0 136.8,231.6 137.1,230.5 137.3,228.8 137.6,232.3 137.8,231.5 138.1,232.0 138.3,230.3 138.6,232.6 138.8,230.2 139.1,232.3 139.3,229.1 139.6,233.3 139.8,230.7 140.1,230.7 140.3,230.4 140.6,231.8 140.8,231.6 141.1,233.2 141.3,230.0 141.6,232.8 141.8,232.3 142.1,233.6 142.3,231.6 142.6,231.6 142.8,232.1 143.1,233.6 143.3,230.0 143.6,230.6 143.8,229.9 144.1,233.1 144.3,230.8 144.6,231.1 144.8,231.3 145.1,229.8 145.3,230.5 145.6,230.4 145.8,230.0 146.1,234.5 146.3,232.6 146.6,232.3 146.8,231.9 147.1,232.0 147.3,232.7 147.6,232.0 147.8,231.9 148.1,229.3 148.3,230.3 148.6,232.7 148.8,228.8 149.1,230.3 149.3,229.7 149.6,231.9 149.8,233.3 150.1,232.4 150.3,229.9 150.6,230.9 150.8,230.8 151.1,229.8 151.3,232.5 151.6,229.5 151.8,229.9 152.1,232.5 152.3,230.8 152.6,234.0 152.8,234.5 153.1,234.4 153.3,230.0 153.6,232.5 153.8,232.6 154.1,230.2 154.3,232.2 154.6,231.3 154.8,230.4 155.1,229.8 155.3,233.4 155.6,233.9 155.8,233.3 156.1,230.6 156.3,232.2 156.6,232.4 156.8,231.6 157.1,233.6 157.3,229.9 157.6,231.7 157.8,231.8 158.1,230.5 158.3,230.0 158.6,231.5 158.8,231.6 159.1,233.0 159.3,229.8 159.6,231.7 159.8,233.5 160.1,231.1 160.3,231.0 160.6,232.4 160.8,232.7 161.1,231.0 161.3,232.8 161.6,232.2 161.8,232.6 162.1,231.7 162.3,234.4 162.6,232.9 162.8,231.7 163.1,229.9 163.3,233.2 163.6,233.5 163.8,232.4 164.1,233.3 164.3,230.4 164.6,232.8 164.8,232.5 165.1,232.8 165.3,234.2 165.6,235.0 165.8,230.9 166.1,232.0 166.3,232.9 166.6,233.3 166.8,233.5 167.1,230.4 167.3,232.7 167.6,233.2 167.8,231.7 168.1,232.2 168.3,233.4 168.6,231.7 168.8,229.4 169.1,231.7 169.3,233.2 169.6,231.6 169.8,232.1 170.1,230.5 170.3,229.8 170.6,229.9 170.8,231.9 171.1,232.9 171.3,230.4 171.6,233.4 171.8,231.6 172.1,228.5 172.3,231.5 172.6,230.1 172.8,229.7 173.1,232.7 173.3,231.8 173.6,233.1 173.8,232.2 174.1,228.8 174.3,232.3 174.6,231.4 174.8,231.4 175.1,231.7 175.3,232.2 175.6,232.4 175.8,229.6 176.1,231.8 176.3,229.9 176.6,229.3 176.8,231.1 177.1,230.3 177.3,229.6 177.6,233.4 177.8,228.6 178.1,232.2 178.3,232.4 178.6,230.0 178.8,231.0 179.1,231.8 179.3,231.6 179.6,229.2 179.8,231.8 180.1,233.4 180.3,230.3 180.6,233.1 180.8,232.5 181.1,231.7 181.3,232.2 181.6,232.6 181.8,230.1 182.1,233.2 182.3,231.1 182.6,229.9 182.8,233.7 183.1,231.7 183.3,231.8 183.6,232.4 183.8,231.4 184.1,230.9 184.3,232.3 184.6,231.2 184.8,232.9 185.1,231.5 185.3,232.8 185.6,233.1 185.8,230.6 186.1,233.2 186.3,230.9 186.6,231.4 186.8,232.5 187.1,231.8 187.3,229.8 187.6,233.4 187.8,233.4 188.1,230.7 188.3,231.5 188.6,231.5 188.8,233.0 189.1,232.0 189.3,233.1 189.6,230.4 189.8,231.5 190.1,230.6 190.3,231.5 190.6,231.1 190.8,232.2 191.1,230.3 191.3,230.3 191.6,230.4 191.8,230.7 192.1,232.9 192.3,230.5 192.6,229.6 192.8,230.9 193.1,231.7 193.3,232.7 193.6,233.0 193.8,230.5 194.1,231.6 194.3,230.8 194.6,230.7 194.8,231.2 195.1,228.9 195.3,230.6 195.6,232.3 195.8,232.8 196.1,231.8 196.3,229.6 196.6,233.0 196.8,230.9 197.1,230.4 197.3,232.9 197.6,231.5 197.8,230.6 198.1,230.4 198.3,233.2 198.6,232.8 198.8,231.5 199.1,231.8 199.3,233.2 199.6,229.3 199.8,229.9 200.1,231.8 200.3,231.6 200.6,229.5 200.8,230.6 201.1,228.5 201.3,228.6 201.6,228.4 201.8,229.7 202.1,229.9 202.3,227.7 202.6,227.5 202.8,225.7 203.1,227.4 203.3,227.7 203.6,228.1 203.8,226.6 204.1,226.1 204.3,224.5 204.6,226.8 204.8,224.5 205.1,225.0 205.3,227.0 205.6,229.6 205.8,227.0 206.1,230.4 206.3,229.7 206.6,230.0 206.8,228.3 207.1,229.5 207.3,229.5 207.6,229.4 207.8,229.3 208.1,229.0 208.3,228.9 208.6,232.0 208.8,230.1 209.1,229.1 209.3,228.8 209.6,230.3 209.8,229.9 210.1,229.5 210.3,229.1 210.6,230.0 210.8,230.6 211.1,229.4 211.3,230.0 211.6,229.7 211.8,230.0 212.1,227.2 212.3,228.5 212.6,229.1 212.8,228.9 213.1,228.7 213.3,227.9 213.6,228.4 213.8,228.2 214.1,228.6 214.3,226.4 214.6,226.3 214.8,225.9 215.1,226.1 215.3,226.4 215.6,226.6 215.8,222.4 216.1,223.4 216.3,221.5 216.6,217.5 216.8,218.1 217.1,213.4 217.3,213.0 217.6,210.5 217.8,210.3 218.1,207.1 218.3,208.7 218.6,205.2 218.8,206.7 219.1,208.6 219.3,209.1 219.6,208.7 219.8,212.0 220.1,215.2 220.3,216.3 220.6,217.3 220.8,215.4 221.1,219.6 221.3,222.1 221.6,222.5 221.8,222.2 222.1,225.3 222.3,227.1 222.6,227.3 222.8,228.1 223.1,227.4 223.3,228.0 223.6,228.7 223.8,229.9 224.1,226.9 224.3,231.6 224.6,231.2 224.8,230.3 225.1,228.7 225.3,227.7 225.6,228.5 225.8,232.4 226.1,231.2 226.3,230.4 226.6,231.8 226.8,230.9 227.1,229.3 227.3,228.4 227.6,231.3 227.8,228.7 228.1,231.5 228.3,232.1 228.6,229.1 228.8,232.1 229.1,232.1 229.3,232.7 229.6,230.1 229.8,232.2 230.1,233.1 230.3,228.6 230.6,230.7 230.8,229.7 231.1,231.0 231.3,233.3 231.6,232.4 231.8,233.2 232.1,229.1 232.3,232.3 232.6,233.2 232.8,231.8 233.1,230.5 233.3,232.6 233.6,231.2 233.8,231.9 234.1,231.6 234.3,234.1 234.6,231.5 234.8,232.7 235.1,232.5 235.3,231.7 235.6,234.1 235.8,232.6 236.1,233.2 236.3,233.7 236.6,231.4 236.8,232.4 237.1,229.9 237.3,233.7 237.6,229.3 237.8,231.4 238.1,231.5 238.3,231.7 238.6,232.2 238.8,232.7 239.1,230.4 239.3,232.8 239.6,232.8 239.8,230.5 240.1,230.5 240.3,231.9 240.6,231.3 240.8,233.2 241.1,230.7 241.3,230.4 241.6,230.9 241.8,231.6 242.1,233.6 242.3,231.1 242.6,231.6 242.8,232.7 243.1,229.3 243.3,232.0 243.6,234.2 243.8,232.2 244.1,232.9 244.3,230.9 244.6,231.7 244.8,230.8 245.1,232.3 245.3,230.1 245.6,232.8 245.8,232.0 246.1,232.9 246.3,230.1 246.6,232.1 246.8,229.4 247.1,231.8 247.3,233.0 247.6,230.8 247.8,232.4 248.1,230.3 248.3,231.6 248.6,229.2 248.8,231.6 249.1,230.1 249.3,229.5 249.6,231.3 249.8,234.2 250.1,233.0 250.3,230.7 250.6,231.5 250.8,232.6 251.1,229.3 251.3,232.7 251.6,229.4 251.8,232.1 252.1,231.1 252.3,232.1 252.6,233.5 252.8,230.0 253.1,232.7 253.3,230.1 253.6,229.3 253.8,231.8 254.1,230.4 254.3,230.6 254.6,232.0 254.8,230.7 255.1,232.2 255.3,231.9 255.6,232.3 255.8,231.5 256.1,230.6 256.4,231.1 256.6,233.1 256.9,233.7 257.1,231.9 257.4,232.7 257.6,230.4 257.9,230.5 258.1,233.6 258.4,230.5 258.6,232.3 258.9,231.3 259.1,233.8 259.4,231.9 259.6,230.7 259.9,229.8 260.1,230.2 260.4,232.0 260.6,229.8 260.9,230.1 261.1,232.4 261.4,233.5 261.6,232.9 261.9,231.7 262.1,230.3 262.4,231.1 262.6,232.1 262.9,232.5 263.1,231.9 263.4,231.6 263.6,230.8 263.9,231.8 264.1,231.8 264.4,231.0 264.6,229.2 264.9,231.4 265.1,230.5 265.4,230.3 265.6,232.4 265.9,232.2 266.1,229.3 266.4,232.4 266.6,231.7 266.9,230.5 267.1,230.6 267.4,232.0 267.6,233.4 267.9,233.8 268.1,230.1 268.4,230.8 268.6,232.0 268.9,230.1 269.1,233.0 269.4,231.0 269.6,232.5 269.9,232.7 270.1,232.4 270.4,233.0 270.6,232.4 270.9,229.2 271.1,230.6 271.4,230.3 271.6,231.7 271.9,230.9 272.1,232.2 272.4,232.5 272.6,231.6 272.9,229.3 273.1,234.0 273.4,232.2 273.6,233.2 273.9,230.6 274.1,231.0 274.4,231.9 274.6,230.3 274.9,231.4 275.1,233.8 275.4,233.7 275.6,231.2 275.9,229.7 276.1,231.0 276.4,232.3 276.6,231.9 276.9,231.6 277.1,233.1 277.4,228.9 277.6,228.8 277.9,232.2 278.1,231.5 278.4,231.2 278.6,230.7 278.9,231.1 279.1,231.4 279.4,231.1 279.6,230.1 279.9,229.3 280.1,231.2 280.4,230.6 280.6,229.3 280.9,233.4 281.1,231.2 281.4,229.7 281.6,229.2 281.9,231.2 282.1,229.3 282.4,230.5 282.6,229.4 282.9,232.4 283.1,230.4 283.4,231.8 283.6,231.4 283.9,232.0 284.1,229.5 284.4,230.1 284.6,232.2 284.9,230.4 285.1,232.0 285.4,233.8 285.6,230.9 285.9,232.2 286.1,230.1 286.4,231.2 286.6,231.1 286.9,231.3 287.1,229.9 287.4,230.6 287.6,232.1 287.9,230.7 288.1,231.6 288.4,231.2 288.6,230.2 288.9,230.7 289.1,232.1 289.4,231.6 289.6,231.3 289.9,227.8 290.1,231.6 290.4,232.7 290.6,234.2 290.9,231.4 291.1,229.3 291.4,230.2 291.6,230.2 291.9,231.0 292.1,229.4 292.4,230.1 292.6,232.1 292.9,230.3 293.1,230.5 293.4,231.0 293.6,231.6 293.9,231.5 294.1,230.0 294.4,230.9 294.6,231.2 294.9,231.1 295.1,229.4 295.4,233.1 295.6,231.8 295.9,230.6 296.1,232.7 296.4,230.5 296.6,230.9 296.9,231.5 297.1,232.3 297.4,233.1 297.6,231.8 297.9,232.8 298.1,230.2 298.4,231.8 298.6,233.5 298.9,230.1 299.1,232.5 299.4,230.4 299.6,231.2 299.9,232.5 300.1,231.6 300.4,230.9 300.6,229.4 300.9,230.1 301.1,232.4 301.4,230.7 301.6,232.6 301.9,230.9 302.1,232.1 302.4,230.5 302.6,229.3 302.9,230.7 303.1,228.9 303.4,230.3 303.6,230.4 303.9,231.1 304.1,229.3 304.4,229.7 304.6,233.0 304.9,232.7 305.1,232.6 305.4,231.4 305.6,230.1 305.9,229.7 306.1,230.4 306.4,229.4 306.6,231.5 306.9,231.8 307.1,231.0 307.4,228.9 307.6,230.4 307.9,230.7 308.1,232.1 308.4,233.2 308.6,230.1 308.9,230.1 309.1,230.5 309.4,229.8 309.6,232.3 309.9,231.0 310.1,231.1 310.4,231.1 310.6,231.7 310.9,232.4 311.1,231.2 311.4,231.5 311.6,229.6 311.9,233.3 312.1,231.5 312.4,231.6 312.6,232.6 312.9,231.9 313.1,230.7 313.4,230.2 313.6,230.9 313.9,231.8 314.1,229.2 314.4,232.2 314.6,233.0 314.9,230.7 315.1,230.8 315.4,232.0 315.6,230.7 315.9,230.5 316.1,229.9 316.4,232.5 316.6,233.2 316.9,233.8 317.1,232.6 317.4,233.5 317.6,234.1 317.9,231.9 318.1,233.2 318.4,230.3 318.6,229.4 318.9,229.9 319.1,231.4 319.4,232.9 319.6,234.3 319.9,230.9 320.1,231.0 320.4,230.5 320.6,229.0 320.9,228.4 321.1,233.9 321.4,232.4 321.6,228.4 321.9,229.6 322.1,232.7 322.4,232.6 322.6,232.4 322.9,232.3 323.1,231.3 323.4,228.4 323.6,229.0 323.9,230.9 324.1,229.3 324.4,232.6 324.6,231.9 324.9,232.7 325.1,229.4 325.4,231.0 325.6,231.1 325.9,230.2 326.1,229.2 326.4,231.3 326.6,231.0 326.9,229.7 327.1,231.9 327.4,227.8 327.6,231.1 327.9,228.3 328.1,231.9 328.4,232.0 328.6,231.3 328.9,227.8 329.1,231.2 329.4,227.7 329.6,230.2 329.9,231.5 330.1,229.8 330.4,229.1 330.6,228.0 330.9,229.5 331.1,228.6 331.4,228.4 331.6,228.6 331.9,230.0 332.1,229.4 332.4,229.1 332.6,227.3 332.9,227.0 333.1,230.1 333.4,226.3 333.6,228.7 333.9,228.0 334.1,228.9 334.4,228.9 334.6,228.6 334.9,228.0 335.1,230.0 335.4,230.1 335.6,226.9 335.9,229.6 336.1,228.7 336.4,231.9 336.6,230.4 336.9,231.1 337.1,229.4 337.4,228.9 337.6,230.2 337.9,230.9 338.1,230.8 338.4,227.2 338.6,228.8 338.9,230.3 339.1,229.4 339.4,232.3 339.6,232.1 339.9,230.1 340.1,231.3 340.4,230.6 340.6,232.4 340.9,232.5 341.1,231.1 341.4,231.4 341.6,229.9 341.9,231.3 342.1,232.4 342.4,233.6 342.6,231.5 342.9,232.3 343.1,232.9 343.4,229.0 343.6,232.8 343.9,230.3 344.1,231.1 344.4,232.0 344.6,231.3 344.9,230.0 345.1,230.5 345.4,230.2 345.6,231.1 345.9,231.5 346.1,232.3 346.4,229.7 346.6,231.4 346.9,230.0 347.1,231.3 347.4,230.2 347.6,231.8 347.9,231.6 348.1,228.3 348.4,230.2 348.6,229.4 348.9,229.8 349.1,230.7 349.4,230.6 349.6,229.1 349.9,231.0 350.1,232.7 350.4,229.9 350.6,229.7 350.9,229.2 351.1,231.0 351.4,233.6 351.6,229.5 351.9,230.5 352.1,229.1 352.4,230.7 352.6,232.0 352.9,229.9 353.1,230.5 353.4,231.3 353.6,232.0 353.9,232.3 354.1,228.7 354.4,228.4 354.6,230.6 354.9,230.9 355.1,227.8 355.4,230.8 355.6,231.8 355.9,229.6 356.1,231.9 356.4,231.7 356.6,229.9 356.9,230.8 357.1,231.0 357.4,228.4 357.6,230.7 357.9,231.0 358.1,230.0 358.4,232.2 358.6,231.0 358.9,229.9 359.1,230.7 359.4,232.5 359.6,230.2 359.9,231.7 360.1,231.9 360.4,231.5 360.6,230.3 360.9,229.2 361.1,232.2 361.4,231.5 361.6,229.3 361.9,231.1 362.1,229.6 362.4,231.8 362.6,229.7 362.9,227.6 363.1,232.5 363.4,230.0 363.6,230.6 363.9,232.8 364.1,234.4 364.4,231.5 364.6,231.9 364.9,232.7 365.1,230.3 365.4,232.2 365.6,229.2 365.9,232.6 366.1,230.4 366.4,229.6 366.6,232.8 366.9,230.8 367.1,230.8 367.4,231.0 367.6,231.1 367.9,229.1 368.1,232.3 368.4,231.9 368.6,229.5 368.9,229.8 369.1,230.1 369.4,228.6 369.6,231.0 369.9,231.3 370.1,231.6 370.4,229.7 370.6,230.0 370.9,229.6 371.1,230.4 371.4,229.8 371.6,229.6 371.9,230.9 372.1,230.8 372.4,231.0 372.6,229.3 372.9,230.5 373.1,232.5 373.4,231.9 373.6,229.7 373.9,233.4 374.1,232.3 374.4,230.1 374.6,231.3 374.9,232.7 375.1,233.4 375.4,229.8 375.6,229.3 375.9,229.5 376.1,230.4 376.4,227.6 376.6,232.2 376.9,232.3 377.1,231.0 377.4,231.2 377.6,232.2 377.9,231.6 378.1,232.9 378.4,230.2 378.6,231.8 378.9,228.9 379.1,228.9 379.4,229.9 379.6,229.9 379.9,229.6 380.1,233.4 380.4,232.5 380.6,232.6 380.9,231.1 381.1,231.5 381.4,229.7 381.6,230.2 381.9,233.0 382.1,232.1 382.4,231.8 382.6,229.6 382.9,229.8 383.1,229.3 383.4,229.9 383.6,231.7 383.9,231.3 384.1,231.7 384.4,230.1 384.6,229.0 384.9,230.9 385.1,232.6 385.4,232.2 385.6,228.5 385.9,231.5 386.1,229.6 386.4,230.2 386.6,232.6 386.9,229.2 387.1,232.8 387.4,232.4 387.6,230.0 387.9,231.9 388.1,232.3 388.4,231.5 388.6,229.4 388.9,230.3 389.1,231.0 389.4,230.1 389.6,232.9 389.9,229.8 390.1,230.8 390.4,231.9 390.6,232.0 390.9,228.5 391.1,231.9 391.4,229.7 391.6,229.0 391.9,229.9 392.1,231.7 392.4,229.9 392.6,232.6 392.9,229.6 393.1,230.0 393.4,228.5 393.6,228.3 393.9,230.1 394.1,229.1 394.4,231.8 394.6,231.3 394.9,229.9 395.1,230.7 395.4,230.8 395.6,230.6 395.9,231.5 396.1,230.8 396.4,231.8 396.6,231.0 396.9,232.0 397.1,232.1 397.4,232.3 397.6,230.9 397.9,230.7 398.1,230.0 398.4,229.3 398.6,229.4 398.9,231.6 399.1,229.1 399.4,231.6 399.6,232.8 399.9,230.8 400.1,232.8 400.4,229.0 400.6,230.1 400.9,230.3 401.1,230.9 401.4,229.9 401.6,230.1 401.9,230.8 402.1,230.5 402.4,227.8 402.6,231.6 402.9,231.4 403.1,231.5 403.4,229.1 403.6,229.3 403.9,232.9 404.1,231.3 404.4,229.9 404.6,228.7 404.9,229.6 405.1,231.8 405.4,228.8 405.6,231.8 405.9,231.6 406.1,228.7 406.4,230.1 406.6,231.9 406.9,229.7 407.1,229.8 407.4,230.9 407.6,230.1 407.9,230.9 408.1,228.6 408.4,231.6 408.6,229.6 408.9,231.7 409.1,232.1 409.4,231.7 409.6,230.7 409.9,230.0 410.1,232.4 410.4,231.2 410.6,230.3 410.9,230.6 411.1,229.5 411.4,231.7 411.6,232.3 411.9,229.2 412.1,229.7 412.4,229.9 412.6,230.3 412.9,229.1 413.1,228.3 413.4,231.7 413.6,228.9 413.9,228.8 414.1,231.2 414.4,229.7 414.6,229.6 414.9,227.9 415.1,229.3 415.4,229.7 415.6,231.7 415.9,228.8 416.1,231.6 416.4,228.3 416.6,229.0 416.9,227.9 417.1,231.0 417.4,232.2 417.6,228.7 417.9,229.4 418.1,231.1 418.4,228.7 418.6,229.6 418.9,230.3 419.1,231.6 419.4,231.7 419.6,229.1 419.9,228.8 420.1,228.4 420.4,228.0 420.6,229.9 420.9,230.0 421.1,230.4 421.4,230.0 421.6,227.9 421.9,231.3 422.1,228.2 422.4,230.9 422.6,228.1 422.9,228.4 423.1,230.5 423.4,227.7 423.6,227.6 423.9,229.3 424.1,230.9 424.4,229.9 424.6,228.7 424.9,232.0 425.1,229.4 425.4,226.8 425.6,229.9 425.9,230.5 426.1,227.2 426.4,228.3 426.6,230.0 426.9,228.8 427.1,228.4 427.4,230.4 427.6,227.4 427.9,227.6 428.1,227.4 428.4,228.0 428.6,227.1 428.9,228.6 429.1,226.3 429.4,226.4 429.6,227.9 429.9,228.4 430.1,227.5 430.4,229.3 430.6,227.9 430.9,226.2 431.1,228.1 431.4,228.1 431.6,227.8 431.9,228.0 432.1,230.1 432.4,227.3 432.6,227.6 432.9,229.4 433.1,226.4 433.4,229.5 433.6,228.4 433.9,230.8 434.1,229.4 434.4,229.9 434.6,229.6 434.9,227.3 435.1,227.8 435.4,228.0 435.6,228.4 435.9,226.9 436.1,231.6 436.4,230.5 436.6,230.0 436.9,228.7 437.1,228.2 437.4,228.0 437.6,227.9 437.9,229.1 438.1,230.7 438.4,229.2 438.6,231.9 438.9,228.6 439.1,230.1 439.4,229.3 439.6,231.3 439.9,231.0 440.1,228.7 440.4,230.1 440.6,229.9 440.9,228.5 441.1,231.0 441.4,229.1 441.6,232.0 441.9,229.8 442.1,229.8 442.4,229.0 442.6,231.1 442.9,227.9 443.1,230.0 443.4,229.1 443.6,230.7 443.9,229.2 444.1,232.0 444.4,228.7 444.6,231.8 444.9,231.4 445.1,231.1 445.4,228.9 445.6,228.7 445.9,231.2 446.1,229.4 446.4,228.5 446.6,233.2 446.9,230.4 447.1,229.3 447.4,229.3 447.6,231.9 447.9,228.4 448.1,230.1 448.4,231.6 448.6,232.4 448.9,229.2 449.1,229.8 449.4,233.0 449.6,228.8 449.9,231.1 450.1,230.8 450.4,230.2 450.6,230.6 450.9,230.5 451.1,230.5 451.4,232.3 451.6,230.8 451.9,231.3 452.1,231.6 452.4,231.2 452.6,230.4 452.9,230.9 453.1,230.2 453.4,232.8 453.6,229.1 453.9,231.5 454.1,230.4 454.4,227.8 454.6,230.6 454.9,230.5 455.1,228.4 455.4,228.6 455.6,228.8 455.9,230.7 456.1,230.7 456.4,230.5 456.6,231.3 456.9,230.1 457.1,229.5 457.4,229.8 457.6,230.7 457.9,230.7 458.1,229.5 458.4,229.9 458.6,230.8 458.9,231.2 459.1,229.6 459.4,231.0 459.6,232.6 459.9,232.4 460.1,227.4 460.4,230.7 460.6,231.5 460.9,229.6 461.1,228.2 461.4,231.2 461.6,228.0 461.9,230.0 462.1,231.2 462.4,229.2 462.6,230.2 462.9,227.0 463.1,228.4 463.4,227.8 463.6,228.7 463.9,229.7 464.1,230.3 464.4,230.2 464.6,231.2 464.9,229.7 465.1,231.6 465.4,229.9 465.6,227.8 465.9,228.9 466.1,231.4 466.4,231.9 466.6,229.9 466.9,232.2 467.1,230.0 467.4,231.0 467.6,229.6 467.9,230.3 468.1,231.8 468.4,231.6 468.6,228.2 468.9,228.5 469.1,231.1 469.4,230.5 469.6,231.8 469.9,231.4 470.1,230.6 470.4,228.8 470.6,228.8 470.9,228.7 471.1,229.1 471.4,228.9 471.6,231.2 471.9,227.3 472.1,230.8 472.4,228.6 472.6,229.9 472.9,230.5 473.1,228.1 473.4,231.0 473.6,227.3 473.9,230.5 474.1,229.0 474.4,230.2 474.6,230.3 474.9,229.0 475.1,230.7 475.4,231.5 475.6,231.5 475.9,230.0 476.1,229.3 476.4,229.0 476.6,230.5 476.9,229.6 477.1,230.4 477.4,230.5 477.6,228.8 477.9,232.1 478.1,229.9 478.4,228.0 478.6,230.7 478.9,232.0 479.1,231.1 479.4,229.2 479.6,228.6 479.9,229.5 480.1,230.2 480.4,229.4 480.6,230.7 480.9,231.5 481.1,228.8 481.4,232.3 481.6,229.5 481.9,230.6 482.1,228.5 482.4,231.4 482.6,229.5 482.9,229.7 483.1,228.8 483.4,231.0 483.6,230.7 483.9,228.3 484.1,229.0 484.4,230.6 484.6,232.1 484.9,230.4 485.1,229.2 485.4,231.4 485.6,230.5 485.9,229.7 486.1,231.3 486.4,231.2 486.6,229.7 486.9,231.5 487.1,228.4 487.4,229.7 487.6,228.6 487.9,231.5 488.1,229.7 488.4,229.8 488.6,229.0 488.9,228.3 489.1,229.4 489.4,231.3 489.6,229.6 489.9,231.8 490.1,229.3 490.4,229.9 490.6,230.1 490.9,231.9 491.1,231.7 491.4,228.7 491.6,230.7 491.9,230.0 492.1,228.4 492.4,230.1 492.6,231.2 492.9,230.4 493.1,231.5 493.4,227.8 493.6,229.6 493.9,230.4 494.1,230.7 494.4,230.0 494.6,231.1 494.9,231.0 495.1,228.3 495.4,229.1 495.6,228.2 495.9,230.2 496.1,231.4 496.4,227.4 496.6,230.7 496.9,231.6 497.1,229.3 497.4,228.2 497.6,230.3 497.9,228.7 498.1,231.0 498.4,227.1 498.6,227.4 498.9,229.1 499.1,227.3 499.4,231.0 499.6,228.8 499.9,230.4 500.1,230.5 500.4,228.0 500.6,228.5 500.9,230.5 501.1,231.0 501.4,231.3 501.6,228.4 501.9,229.4 502.1,231.4 502.4,231.1 502.6,231.4 502.9,229.1 503.1,229.6 503.4,229.8 503.6,228.3 503.9,229.3 504.1,228.8 504.4,230.0 504.6,231.2 504.9,230.2 505.1,229.9 505.4,228.9 505.6,231.9 505.9,229.5 506.1,230.6 506.4,230.4 506.6,227.0 506.9,229.5 507.1,230.5 507.4,232.5 507.6,230.4 507.9,228.7 508.1,232.6 508.4,229.8 508.6,230.6 508.9,230.9 509.1,227.8 509.4,229.6 509.6,229.8 509.9,230.1 510.1,230.0 510.4,229.5 510.6,229.0 510.9,227.5 511.1,231.0 511.4,229.5 511.6,229.4 511.9,229.9 512.1,226.8 512.4,229.3 512.6,227.3 512.9,230.2 513.1,228.6 513.4,226.2 513.6,229.4 513.9,230.3 514.1,229.0 514.4,230.8 514.6,228.7 514.9,230.3 515.1,230.0 515.4,229.2 515.6,228.3 515.9,227.5 516.1,227.9 516.4,229.9 516.6,231.0 516.9,228.8 517.1,228.8 517.4,230.2 517.6,229.9 517.9,230.7 518.1,229.0 518.4,231.8 518.6,230.1 518.9,228.1 519.1,229.8 519.4,230.0 519.6,227.9 519.9,227.9 520.1,230.3 520.4,228.0 520.6,228.2 520.9,229.6 521.1,228.4 521.4,228.0 521.6,227.9 521.9,230.9 522.1,230.8 522.4,227.9 522.6,230.3 522.9,229.6 523.1,229.3 523.4,229.8 523.6,230.1 523.9,228.1 524.1,229.2 524.4,229.4 524.6,231.0 524.9,229.8 525.1,230.1 525.4,230.0 525.6,229.3 525.9,229.9 526.1,229.1 526.4,227.3 526.6,229.5 526.9,227.7 527.1,230.6 527.4,227.3 527.6,227.9 527.9,228.4 528.1,227.6 528.4,228.9 528.6,229.1 528.9,229.8 529.1,230.9 529.4,228.4 529.6,227.5 529.9,229.0 530.1,231.9 530.4,227.9 530.6,229.6 530.9,228.9 531.1,229.2 531.4,230.5 531.6,227.4 531.9,230.2 532.1,227.8 532.4,229.7 532.6,229.1 532.9,229.7 533.1,228.9 533.4,229.9 533.6,228.0 533.9,230.7 534.1,229.7 534.4,228.9 534.6,229.5 534.9,230.4 535.1,229.6 535.4,230.7 535.6,229.9 535.9,229.1 536.1,227.3"/>
<polyline fill="none" stroke="#000000" stroke-width="3.2" stroke-linejoin="round" stroke-linecap="round" points="79.6,333.7 79.8,335.4 80.1,336.9 80.3,336.9 80.6,339.0 80.8,337.4 81.1,336.7 81.3,335.6 81.6,336.8 81.8,337.7 82.1,338.5 82.3,336.9 82.6,334.1 82.8,336.0 83.1,337.4 83.3,334.2 83.6,335.7 83.8,334.2 84.1,334.0 84.3,334.8 84.6,336.9 84.8,337.2 85.1,336.2 85.3,336.9 85.6,337.4 85.8,335.9 86.1,333.5 86.3,334.4 86.6,333.9 86.8,336.8 87.1,334.4 87.3,337.5 87.6,334.8 87.8,337.0 88.1,335.5 88.3,335.8 88.6,337.5 88.8,337.0 89.1,337.5 89.3,338.1 89.6,339.0 89.8,335.5 90.1,335.7 90.3,337.4 90.6,336.4 90.8,338.3 91.1,336.1 91.3,336.3 91.6,338.9 91.8,335.4 92.1,338.7 92.3,337.0 92.6,337.3 92.8,338.1 93.1,335.2 93.3,335.7 93.6,339.4 93.8,339.2 94.1,340.3 94.3,337.0 94.6,337.7 94.8,336.9 95.1,338.1 95.3,339.0 95.6,338.9 95.8,335.6 96.1,338.0 96.3,338.7 96.6,339.3 96.8,337.0 97.1,338.1 97.3,338.5 97.6,336.6 97.8,337.5 98.1,338.2 98.3,336.5 98.6,336.0 98.8,336.2 99.1,337.7 99.3,337.8 99.6,336.8 99.8,336.9 100.1,336.5 100.3,337.4 100.6,336.2 100.8,336.2 101.1,336.0 101.3,336.0 101.6,338.2 101.8,335.5 102.1,335.6 102.3,337.7 102.6,335.3 102.8,336.9 103.1,334.2 103.3,335.5 103.6,336.4 103.8,336.8 104.1,335.5 104.3,338.0 104.6,338.1 104.8,336.7 105.1,337.9 105.3,335.8 105.6,338.7 105.8,336.8 106.1,336.7 106.3,336.5 106.6,336.8 106.8,337.7 107.1,337.1 107.3,337.5 107.6,338.7 107.8,336.2 108.1,336.2 108.3,337.7 108.6,338.5 108.8,339.8 109.1,335.2 109.3,337.8 109.6,336.5 109.8,336.1 110.1,338.3 110.3,338.2 110.6,335.3 110.8,336.5 111.1,335.8 111.3,337.8 111.6,337.0 111.8,339.5 112.1,338.4 112.3,338.6 112.6,336.4 112.8,338.2 113.1,337.3 113.3,339.2 113.6,337.2 113.8,336.9 114.1,338.9 114.3,336.8 114.6,337.8 114.8,339.5 115.1,336.4 115.3,337.6 115.6,337.1 115.8,335.0 116.1,337.8 116.3,340.1 116.6,335.7 116.8,338.9 117.1,337.8 117.3,336.8 117.6,336.2 117.8,336.8 118.1,340.0 118.3,336.0 118.6,337.4 118.8,338.6 119.1,336.7 119.3,335.6 119.6,336.1 119.8,340.7 120.1,336.4 120.3,336.0 120.6,338.1 120.8,336.4 121.1,335.6 121.3,338.4 121.6,338.5 121.8,341.2 122.1,339.2 122.3,337.3 122.6,338.8 122.8,339.7 123.1,335.1 123.3,338.1 123.6,338.0 123.8,336.3 124.1,338.9 124.3,337.9 124.6,336.6 124.8,340.1 125.1,338.3 125.3,337.1 125.6,337.8 125.8,339.2 126.1,337.1 126.3,338.9 126.6,338.8 126.8,337.7 127.1,339.0 127.3,338.2 127.6,338.5 127.8,336.2 128.1,338.2 128.3,340.6 128.6,339.8 128.8,335.6 129.1,335.1 129.3,340.4 129.6,336.5 129.8,335.5 130.1,337.7 130.3,338.6 130.6,340.0 130.8,336.8 131.1,337.9 131.3,340.4 131.6,337.4 131.8,336.2 132.1,339.6 132.3,339.3 132.6,336.8 132.8,337.6 133.1,338.1 133.3,339.3 133.6,338.9 133.8,339.3 134.1,339.7 134.3,339.7 134.6,340.6 134.8,336.6 135.1,338.7 135.3,339.0 135.6,339.7 135.8,340.2 136.1,337.1 136.3,339.3 136.6,336.7 136.8,335.7 137.1,336.9 137.3,338.5 137.6,336.0 137.8,336.3 138.1,338.6 138.3,338.2 138.6,339.3 138.8,337.7 139.1,336.2 139.3,336.9 139.6,339.4 139.8,337.8 140.1,336.9 140.3,338.9 140.6,337.4 140.8,335.4 141.1,336.9 141.3,339.4 141.6,338.7 141.8,336.8 142.1,334.7 142.3,338.9 142.6,337.6 142.8,336.3 143.1,335.5 143.3,336.4 143.6,336.2 143.8,338.4 144.1,337.7 144.3,339.9 144.6,338.7 144.8,338.5 145.1,337.7 145.3,338.4 145.6,339.0 145.8,340.1 146.1,336.9 146.3,338.5 146.6,335.4 146.8,339.6 147.1,338.5 147.3,337.3 147.6,338.0 147.8,338.7 148.1,339.9 148.3,339.8 148.6,337.9 148.8,336.7 149.1,339.2 149.3,339.7 149.6,336.8 149.8,340.4 150.1,339.2 150.3,338.0 150.6,337.2 150.8,336.1 151.1,337.9 151.3,339.0 151.6,338.4 151.8,339.4 152.1,339.4 152.3,340.3 152.6,338.8 152.8,337.7 153.1,338.3 153.3,337.7 153.6,338.5 153.8,336.2 154.1,336.0 154.3,339.0 154.6,336.0 154.8,340.6 155.1,337.7 155.3,338.0 155.6,336.9 155.8,338.9 156.1,340.5 156.3,338.0 156.6,337.9 156.8,341.5 157.1,339.8 157.3,337.5 157.6,335.7 157.8,335.1 158.1,336.2 158.3,337.9 158.6,336.9 158.8,338.9 159.1,336.4 159.3,337.5 159.6,339.2 159.8,336.6 160.1,338.1 160.3,339.8 160.6,339.7 160.8,337.2 161.1,337.2 161.3,336.5 161.6,336.8 161.8,335.5 162.1,339.0 162.3,338.7 162.6,336.7 162.8,338.3 163.1,336.8 163.3,335.4 163.6,337.6 163.8,340.2 164.1,335.8 164.3,340.2 164.6,337.4 164.8,337.4 165.1,339.9 165.3,335.5 165.6,336.5 165.8,339.4 166.1,335.2 166.3,336.3 166.6,336.0 166.8,336.4 167.1,337.7 167.3,336.8 167.6,337.3 167.8,336.1 168.1,337.5 168.3,338.1 168.6,339.1 168.8,336.1 169.1,336.9 169.3,338.5 169.6,340.1 169.8,336.6 170.1,338.2 170.3,337.4 170.6,338.3 170.8,336.1 171.1,337.6 171.3,335.5 171.6,336.0 171.8,337.5 172.1,339.9 172.3,340.3 172.6,340.4 172.8,337.5 173.1,338.4 173.3,337.6 173.6,337.1 173.8,336.3 174.1,338.2 174.3,338.3 174.6,336.7 174.8,338.4 175.1,335.9 175.3,336.3 175.6,338.4 175.8,338.5 176.1,340.7 176.3,338.8 176.6,339.8 176.8,339.0 177.1,336.9 177.3,339.5 177.6,335.8 177.8,339.1 178.1,341.1 178.3,338.9 178.6,339.6 178.8,336.8 179.1,338.3 179.3,337.2 179.6,339.6 179.8,339.7 180.1,335.1 180.3,338.7 180.6,338.5 180.8,338.5 181.1,336.9 181.3,337.4 181.6,339.0 181.8,336.7 182.1,335.8 182.3,337.2 182.6,336.5 182.8,336.6 183.1,335.2 183.3,333.8 183.6,333.7 183.8,329.2 184.1,330.8 184.3,331.5 184.6,328.0 184.8,330.3 185.1,327.0 185.3,328.4 185.6,331.7 185.8,334.8 186.1,332.7 186.3,336.4 186.6,334.7 186.8,337.9 187.1,333.8 187.3,335.4 187.6,338.8 187.8,337.4 188.1,338.6 188.3,338.4 188.6,335.3 188.8,336.9 189.1,337.1 189.3,338.4 189.6,337.6 189.8,338.2 190.1,337.4 190.3,337.0 190.6,336.1 190.8,334.4 191.1,337.6 191.3,337.7 191.6,336.6 191.8,335.5 192.1,338.0 192.3,338.5 192.6,339.1 192.8,337.5 193.1,338.9 193.3,336.3 193.6,335.3 193.8,337.0 194.1,340.7 194.3,336.0 194.6,338.7 194.8,338.8 195.1,338.2 195.3,337.7 195.6,336.9 195.8,336.1 196.1,337.5 196.3,337.0 196.6,339.4 196.8,336.7 197.1,336.4 197.3,334.3 197.6,338.0 197.8,337.1 198.1,336.7 198.3,338.6 198.6,337.6 198.8,335.9 199.1,338.8 199.3,334.5 199.6,338.8 199.8,337.4 200.1,337.8 200.3,336.2 200.6,336.8 200.8,337.9 201.1,335.5 201.3,338.9 201.6,338.1 201.8,333.9 202.1,335.3 202.3,338.5 202.6,338.2 202.8,337.0 203.1,333.8 203.3,334.6 203.6,331.2 203.8,331.6 204.1,331.2 204.3,328.2 204.6,326.1 204.8,327.9 205.1,327.4 205.3,323.7 205.6,329.6 205.8,327.6 206.1,328.9 206.3,333.3 206.6,333.6 206.8,334.7 207.1,333.7 207.3,333.9 207.6,335.7 207.8,335.8 208.1,338.1 208.3,335.8 208.6,335.8 208.8,337.6 209.1,337.0 209.3,337.7 209.6,337.4 209.8,336.8 210.1,335.0 210.3,336.5 210.6,338.4 210.8,338.1 211.1,335.3 211.3,337.3 211.6,336.9 211.8,335.7 212.1,336.3 212.3,338.3 212.6,334.3 212.8,337.4 213.1,335.1 213.3,334.6 213.6,333.8 213.8,333.2 214.1,332.0 214.3,334.2 214.6,332.9 214.8,332.0 215.1,332.4 215.3,329.6 215.6,330.0 215.8,329.5 216.1,325.9 216.3,325.1 216.6,319.8 216.8,318.3 217.1,312.7 217.3,306.6 217.6,298.5 217.8,290.1 218.1,279.3 218.3,267.7 218.6,261.9 218.8,250.8 219.1,244.0 219.3,243.2 219.6,249.1 219.8,253.0 220.1,260.5 220.3,271.6 220.6,281.4 220.8,293.3 221.1,299.5 221.3,307.7 221.6,314.3 221.8,316.3 222.1,321.5 222.3,322.5 222.6,328.0 222.8,328.3 223.1,329.9 223.3,332.1 223.6,331.1 223.8,330.7 224.1,332.8 224.3,331.9 224.6,330.4 224.8,334.1 225.1,331.9 225.3,331.9 225.6,334.1 225.8,331.8 226.1,335.6 226.3,333.8 226.6,334.0 226.8,333.9 227.1,331.4 227.3,334.1 227.6,335.4 227.8,333.4 228.1,334.3 228.3,336.1 228.6,334.2 228.8,335.6 229.1,336.2 229.3,336.3 229.6,338.0 229.8,335.7 230.1,338.0 230.3,335.6 230.6,337.2 230.8,335.2 231.1,334.8 231.3,336.7 231.6,334.9 231.8,339.4 232.1,339.9 232.3,334.5 232.6,339.1 232.8,335.7 233.1,337.0 233.3,338.1 233.6,336.6 233.8,336.1 234.1,339.5 234.3,334.4 234.6,340.1 234.8,336.1 235.1,338.3 235.3,336.0 235.6,339.6 235.8,337.4 236.1,339.6 236.3,337.2 236.6,338.4 236.8,337.9 237.1,340.6 237.3,335.5 237.6,338.2 237.8,338.7 238.1,338.8 238.3,337.3 238.6,339.1 238.8,335.8 239.1,337.2 239.3,338.7 239.6,339.8 239.8,337.7 240.1,339.3 240.3,340.0 240.6,336.8 240.8,336.8 241.1,338.3 241.3,336.3 241.6,335.7 241.8,337.0 242.1,338.8 242.3,337.1 242.6,338.0 242.8,338.4 243.1,337.5 243.3,338.2 243.6,338.0 243.8,337.4 244.1,339.0 244.3,335.2 244.6,338.8 244.8,337.4 245.1,339.8 245.3,336.9 245.6,336.5 245.8,336.2 246.1,338.8 246.3,340.7 246.6,335.7 246.8,338.2 247.1,338.0 247.3,338.1 247.6,335.9 247.8,336.7 248.1,335.8 248.3,338.6 248.6,337.3 248.8,336.2 249.1,339.0 249.3,337.7 249.6,334.7 249.8,338.8 250.1,337.6 250.3,336.2 250.6,338.1 250.8,338.4 251.1,335.8 251.3,337.4 251.6,335.3 251.8,334.8 252.1,336.3 252.3,337.4 252.6,337.0 252.8,337.9 253.1,336.4 253.3,337.8 253.6,338.7 253.8,337.9 254.1,336.1 254.3,337.5 254.6,338.6 254.8,336.8 255.1,337.3 255.3,336.9 255.6,335.2 255.8,338.4 256.1,337.9 256.4,337.1 256.6,336.6 256.9,334.4 257.1,335.3 257.4,335.6 257.6,338.0 257.9,333.7 258.1,334.1 258.4,334.9 258.6,334.3 258.9,329.8 259.1,328.4 259.4,325.8 259.6,325.3 259.9,318.7 260.1,314.9 260.4,311.4 260.6,306.2 260.9,306.0 261.1,307.1 261.4,307.7 261.6,311.7 261.9,314.8 262.1,317.9 262.4,320.9 262.6,325.2 262.9,330.9 263.1,329.5 263.4,334.7 263.6,333.4 263.9,333.6 264.1,336.9 264.4,337.0 264.6,336.0 264.9,337.3 265.1,338.2 265.4,335.4 265.6,338.9 265.9,339.2 266.1,335.8 266.4,336.0 266.6,338.2 266.9,336.2 267.1,338.3 267.4,337.5 267.6,336.8 267.9,338.3 268.1,337.4 268.4,336.9 268.6,336.1 268.9,339.6 269.1,336.8 269.4,336.3 269.6,338.0 269.9,336.2 270.1,338.7 270.4,336.9 270.6,339.2 270.9,338.3 271.1,339.3 271.4,336.0 271.6,335.9 271.9,339.3 272.1,338.2 272.4,339.0 272.6,339.4 272.9,338.5 273.1,337.2 273.4,338.5 273.6,334.1 273.9,336.3 274.1,338.2 274.4,339.1 274.6,335.4 274.9,335.6 275.1,336.4 275.4,338.6 275.6,336.6 275.9,338.9 276.1,338.1 276.4,339.1 276.6,338.9 276.9,335.5 277.1,338.4 277.4,340.4 277.6,337.3 277.9,336.9 278.1,338.0 278.4,338.3 278.6,336.7 278.9,336.8 279.1,337.1 279.4,339.7 279.6,338.3 279.9,337.6 280.1,339.9 280.4,341.4 280.6,336.9 280.9,339.5 281.1,337.4 281.4,339.7 281.6,338.4 281.9,338.7 282.1,338.3 282.4,337.9 282.6,339.4 282.9,339.0 283.1,337.4 283.4,339.2 283.6,340.9 283.9,336.9 284.1,340.0 284.4,337.2 284.6,338.3 284.9,338.4 285.1,335.7 285.4,336.9 285.6,336.8 285.9,339.9 286.1,338.5 286.4,338.6 286.6,337.0 286.9,335.5 287.1,336.7 287.4,339.6 287.6,336.4 287.9,338.2 288.1,338.3 288.4,335.6 288.6,338.5 288.9,338.6 289.1,338.4 289.4,337.9 289.6,340.2 289.9,336.2 290.1,337.3 290.4,336.8 290.6,339.9 290.9,339.3 291.1,338.1 291.4,337.3 291.6,340.1 291.9,337.5 292.1,336.3 292.4,338.3 292.6,336.8 292.9,338.3 293.1,335.2 293.4,339.0 293.6,338.3 293.9,334.9 294.1,338.8 294.4,338.5 294.6,339.0 294.9,339.8 295.1,339.7 295.4,339.4 295.6,338.5 295.9,336.4 296.1,335.4 296.4,337.8 296.6,337.6 296.9,338.2 297.1,338.2 297.4,340.4 297.6,339.9 297.9,336.7 298.1,339.3 298.4,339.5 298.6,337.8 298.9,339.6 299.1,339.0 299.4,336.2 299.6,335.5 299.9,335.6 300.1,335.8 300.4,339.3 300.6,336.9 300.9,340.7 301.1,337.8 301.4,338.5 301.6,338.7 301.9,338.5 302.1,337.0 302.4,337.2 302.6,340.3 302.9,337.1 303.1,337.3 303.4,339.0 303.6,336.7 303.9,338.1 304.1,340.0 304.4,337.4 304.6,340.4 304.9,340.0 305.1,338.6 305.4,338.1 305.6,340.3 305.9,338.1 306.1,336.7 306.4,340.0 306.6,336.7 306.9,338.6 307.1,340.8 307.4,340.3 307.6,339.9 307.9,336.3 308.1,338.2 308.4,339.4 308.6,339.3 308.9,337.9 309.1,339.6 309.4,335.9 309.6,340.5 309.9,340.5 310.1,337.4 310.4,341.3 310.6,341.4 310.9,339.7 311.1,337.8 311.4,341.0 311.6,336.6 311.9,338.4 312.1,338.4 312.4,338.7 312.6,339.5 312.9,337.5 313.1,336.8 313.4,340.2 313.6,336.8 313.9,337.8 314.1,340.0 314.4,338.6 314.6,339.5 314.9,337.2 315.1,340.6 315.4,339.4 315.6,341.2 315.9,339.1 316.1,338.6 316.4,337.4 316.6,337.0 316.9,338.3 317.1,337.5 317.4,337.8 317.6,337.1 317.9,337.7 318.1,336.4 318.4,340.5 318.6,336.8 318.9,335.3 319.1,338.7 319.4,339.8 319.6,335.6 319.9,337.7 320.1,338.5 320.4,337.4 320.6,337.9 320.9,337.5 321.1,340.5 321.4,337.5 321.6,338.9 321.9,338.0 322.1,337.0 322.4,338.5 322.6,338.8 322.9,337.8 323.1,337.9 323.4,337.7 323.6,339.9 323.9,339.7 324.1,335.9 324.4,339.7 324.6,339.4 324.9,337.0 325.1,337.1 325.4,339.6 325.6,339.7 325.9,339.6 326.1,339.0 326.4,337.8 326.6,337.2 326.9,338.5 327.1,338.4 327.4,336.4 327.6,336.3 327.9,337.4 328.1,338.2 328.4,340.2 328.6,337.5 328.9,339.1 329.1,336.7 329.4,338.9 329.6,336.0 329.9,337.4 330.1,338.3 330.4,338.7 330.6,336.6 330.9,339.0 331.1,335.9 331.4,334.8 331.6,334.9 331.9,336.4 332.1,336.1 332.4,339.7 332.6,338.5 332.9,338.3 333.1,338.4 333.4,336.4 333.6,336.9 333.9,337.7 334.1,339.4 334.4,339.2 334.6,337.0 334.9,338.1 335.1,336.1 335.4,333.2 335.6,332.1 335.9,332.8 336.1,334.8 336.4,335.3 336.6,335.3 336.9,333.7 337.1,333.3 337.4,335.2 337.6,334.9 337.9,337.3 338.1,335.1 338.4,338.5 338.6,338.1 338.9,337.7 339.1,337.9 339.4,339.4 339.6,337.0 339.9,336.7 340.1,336.9 340.4,338.4 340.6,337.8 340.9,336.4 341.1,337.8 341.4,337.7 341.6,339.8 341.9,339.8 342.1,337.7 342.4,340.4 342.6,338.3 342.9,337.2 343.1,336.4 343.4,337.4 343.6,337.2 343.9,337.0 344.1,338.6 344.4,340.7 344.6,337.8 344.9,337.8 345.1,339.1 345.4,336.4 345.6,337.2 345.9,338.5 346.1,340.8 346.4,337.8 346.6,338.7 346.9,338.8 347.1,336.8 347.4,337.6 347.6,336.7 347.9,338.2 348.1,338.5 348.4,335.8 348.6,337.7 348.9,337.8 349.1,337.2 349.4,338.3 349.6,340.5 349.9,337.8 350.1,338.3 350.4,339.1 350.6,338.6 350.9,337.3 351.1,337.7 351.4,340.0 351.6,338.8 351.9,337.7 352.1,337.5 352.4,335.5 352.6,338.0 352.9,339.1 353.1,335.7 353.4,338.4 353.6,336.1 353.9,338.0 354.1,338.9 354.4,335.0 354.6,335.7 354.9,337.6 355.1,337.3 355.4,336.5 355.6,337.5 355.9,336.7 356.1,336.4 356.4,338.9 356.6,338.6 356.9,339.1 357.1,338.9 357.4,338.7 357.6,337.9 357.9,339.9 358.1,337.4 358.4,340.6 358.6,339.8 358.9,339.2 359.1,336.2 359.4,340.6 359.6,336.6 359.9,339.9 360.1,337.6 360.4,337.3 360.6,335.9 360.9,339.7 361.1,336.0 361.4,335.9 361.6,337.7 361.9,338.6 362.1,336.6 362.4,339.0 362.6,337.7 362.9,336.5 363.1,337.8 363.4,339.1 363.6,337.9 363.9,338.4 364.1,340.1 364.4,336.7 364.6,337.0 364.9,338.4 365.1,339.2 365.4,338.9 365.6,340.8 365.9,339.0 366.1,339.3 366.4,336.3 366.6,338.6 366.9,340.2 367.1,339.2 367.4,336.2 367.6,338.1 367.9,336.7 368.1,337.1 368.4,336.0 368.6,339.7 368.9,338.4 369.1,336.2 369.4,337.5 369.6,336.3 369.9,339.6 370.1,338.2 370.4,334.9 370.6,337.5 370.9,335.7 371.1,338.6 371.4,338.8 371.6,336.2 371.9,338.7 372.1,336.6 372.4,337.9 372.6,338.5 372.9,338.8 373.1,336.6 373.4,336.7 373.6,335.1 373.9,335.7 374.1,337.0 374.4,336.7 374.6,338.1 374.9,335.5 375.1,337.5 375.4,338.1 375.6,337.6 375.9,340.1 376.1,339.8 376.4,339.2 376.6,338.2 376.9,338.1 377.1,336.4 377.4,338.8 377.6,337.5 377.9,337.4 378.1,340.7 378.4,337.7 378.6,338.6 378.9,337.8 379.1,337.0 379.4,339.0 379.6,340.3 379.9,337.0 380.1,335.6 380.4,337.1 380.6,340.6 380.9,336.5 381.1,337.2 381.4,337.5 381.6,339.1 381.9,339.0 382.1,338.0 382.4,336.6 382.6,336.2 382.9,337.3 383.1,336.0 383.4,338.9 383.6,338.1 383.9,339.8 384.1,337.6 384.4,337.8 384.6,337.3 384.9,337.2 385.1,338.3 385.4,336.9 385.6,338.4 385.9,338.4 386.1,339.0 386.4,338.0 386.6,339.2 386.9,337.4 387.1,336.0 387.4,336.2 387.6,336.5 387.9,335.5 388.1,336.3 388.4,337.2 388.6,337.6 388.9,335.5 389.1,337.9 389.4,338.4 389.6,338.2 389.9,335.6 390.1,337.8 390.4,337.5 390.6,336.7 390.9,338.1 391.1,336.6 391.4,336.8 391.6,336.3 391.9,337.9 392.1,336.0 392.4,337.8 392.6,336.0 392.9,339.0 393.1,335.7 393.4,338.1 393.6,335.0 393.9,335.7 394.1,335.7 394.4,336.3 394.6,339.0 394.9,336.0 395.1,335.8 395.4,337.8 395.6,336.4 395.9,334.7 396.1,338.4 396.4,338.2 396.6,338.0 396.9,335.0 397.1,337.2 397.4,334.3 397.6,336.4 397.9,335.3 398.1,334.5 398.4,334.8 398.6,334.9 398.9,331.8 399.1,331.2 399.4,332.8 399.6,328.7 399.9,327.0 400.1,327.0 400.4,325.0 400.6,322.4 400.9,323.5 401.1,323.4 401.4,320.8 401.6,324.8 401.9,327.1 402.1,327.5 402.4,331.6 402.6,331.5 402.9,333.2 403.1,335.3 403.4,331.6 403.6,333.3 403.9,337.9 404.1,336.4 404.4,333.8 404.6,337.6 404.9,336.6 405.1,336.2 405.4,337.6 405.6,335.6 405.9,335.6 406.1,338.3 406.4,335.4 406.6,335.3 406.9,338.4 407.1,337.4 407.4,337.3 407.6,336.9 407.9,337.7 408.1,337.2 408.4,335.9 408.6,337.9 408.9,334.1 409.1,335.9 409.4,335.2 409.6,338.0 409.9,336.8 410.1,337.2 410.4,335.1 410.6,334.5 410.9,332.3 411.1,335.4 411.4,332.1 411.6,334.1 411.9,334.5 412.1,331.8 412.4,334.4 412.6,332.3 412.9,334.5 413.1,336.3 413.4,335.8 413.6,334.4 413.9,337.7 414.1,333.0 414.4,337.7 414.6,336.8 414.9,335.7 415.1,336.0 415.4,337.2 415.6,337.7 415.9,337.8 416.1,336.0 416.4,337.7 416.6,338.9 416.9,338.7 417.1,339.7 417.4,337.0 417.6,336.6 417.9,336.3 418.1,338.2 418.4,338.1 418.6,338.4 418.9,338.3 419.1,338.3 419.4,337.8 419.6,336.6 419.9,338.1 420.1,338.3 420.4,339.4 420.6,340.2 420.9,339.5 421.1,335.6 421.4,337.9 421.6,339.7 421.9,337.3 422.1,335.9 422.4,339.0 422.6,337.5 422.9,337.2 423.1,334.4 423.4,337.0 423.6,339.0 423.9,337.6 424.1,339.2 424.4,335.2 424.6,337.3 424.9,339.3 425.1,338.8 425.4,336.2 425.6,337.1 425.9,338.3 426.1,336.9 426.4,336.6 426.6,336.6 426.9,336.3 427.1,336.5 427.4,336.7 427.6,336.5 427.9,336.1 428.1,338.5 428.4,336.0 428.6,338.0 428.9,336.6 429.1,338.2 429.4,336.0 429.6,335.9 429.9,338.0 430.1,336.7 430.4,339.2 430.6,339.1 430.9,338.3 431.1,338.5 431.4,337.4 431.6,336.2 431.9,339.7 432.1,336.1 432.4,338.5 432.6,338.7 432.9,336.9 433.1,335.7 433.4,337.0 433.6,335.0 433.9,336.9 434.1,336.8 434.4,333.4 434.6,335.5 434.9,333.3 435.1,335.5 435.4,332.3 435.6,336.7 435.9,332.5 436.1,332.7 436.4,334.1 436.6,334.7 436.9,336.0 437.1,338.3 437.4,339.0 437.6,336.3 437.9,339.0 438.1,337.4 438.4,338.4 438.6,335.8 438.9,337.2 439.1,338.8 439.4,337.1 439.6,336.6 439.9,337.7 440.1,338.1 440.4,337.8 440.6,337.0 440.9,338.6 441.1,339.1 441.4,339.4 441.6,336.0 441.9,337.2 442.1,334.5 442.4,337.6 442.6,337.8 442.9,337.0 443.1,335.9 443.4,337.0 443.6,335.8 443.9,336.4 444.1,335.2 444.4,335.0 444.6,337.9 444.9,339.1 445.1,339.3 445.4,335.3 445.6,336.3 445.9,335.6 446.1,335.0 446.4,338.1 446.6,336.9 446.9,336.7 447.1,337.1 447.4,334.5 447.6,336.7 447.9,336.3 448.1,337.8 448.4,337.6 448.6,338.0 448.9,335.6 449.1,340.1 449.4,336.3 449.6,335.5 449.9,340.1 450.1,339.5 450.4,336.7 450.6,335.3 450.9,335.7 451.1,338.2 451.4,337.7 451.6,337.5 451.9,338.1 452.1,338.5 452.4,339.4 452.6,335.1 452.9,337.3 453.1,336.2 453.4,337.5 453.6,338.2 453.9,335.9 454.1,337.4 454.4,338.2 454.6,335.5 454.9,338.9 455.1,335.6 455.4,337.9 455.6,337.2 455.9,338.0 456.1,336.0 456.4,338.6 456.6,337.7 456.9,336.9 457.1,334.8 457.4,339.1 457.6,337.3 457.9,338.6 458.1,338.2 458.4,340.2 458.6,339.7 458.9,338.6 459.1,334.1 459.4,336.3 459.6,335.4 459.9,335.8 460.1,338.6 460.4,337.8 460.6,338.9 460.9,338.2 461.1,337.4 461.4,335.4 461.6,336.1 461.9,341.3 462.1,337.9 462.4,336.3 462.6,336.7 462.9,339.9 463.1,337.2 463.4,335.2 463.6,337.5 463.9,337.1 464.1,335.1 464.4,337.3 464.6,339.3 464.9,339.5 465.1,337.6 465.4,337.1 465.6,339.4 465.9,335.8 466.1,337.8 466.4,338.4 466.6,338.6 466.9,339.2 467.1,336.7 467.4,338.5 467.6,339.3 467.9,337.5 468.1,338.5 468.4,336.2 468.6,336.4 468.9,338.3 469.1,336.7 469.4,339.1 469.6,335.1 469.9,336.7 470.1,335.3 470.4,338.6 470.6,335.1 470.9,338.7 471.1,335.0 471.4,337.7 471.6,338.5 471.9,336.2 472.1,338.2 472.4,337.7 472.6,336.7 472.9,335.9 473.1,337.1 473.4,337.0 473.6,337.7 473.9,338.2 474.1,338.6 474.4,337.1 474.6,340.4 474.9,335.7 475.1,339.1 475.4,337.5 475.6,337.3 475.9,334.2 476.1,339.1 476.4,334.6 476.6,337.3 476.9,339.2 477.1,335.7 477.4,338.1 477.6,337.5 477.9,335.8 478.1,337.2 478.4,335.9 478.6,336.6 478.9,335.5 479.1,336.2 479.4,337.1 479.6,335.8 479.9,337.7 480.1,336.2 480.4,338.3 480.6,334.6 480.9,335.0 481.1,334.9 481.4,338.4 481.6,334.9 481.9,338.8 482.1,337.8 482.4,338.4 482.6,338.0 482.9,336.5 483.1,337.6 483.4,337.7 483.6,338.9 483.9,336.5 484.1,338.3 484.4,336.2 484.6,337.0 484.9,338.3 485.1,338.3 485.4,338.4 485.6,337.4 485.9,335.2 486.1,337.9 486.4,340.2 486.6,338.0 486.9,336.1 487.1,336.0 487.4,336.5 487.6,336.0 487.9,338.0 488.1,338.4 488.4,338.5 488.6,336.1 488.9,336.4 489.1,337.4 489.4,337.1 489.6,336.2 489.9,338.0 490.1,335.3 490.4,338.5 490.6,333.2 490.9,337.4 491.1,337.7 491.4,336.4 491.6,336.8 491.9,334.9 492.1,339.5 492.4,335.3 492.6,335.3 492.9,332.6 493.1,332.6 493.4,331.9 493.6,328.7 493.9,332.2 494.1,328.7 494.4,327.0 494.6,328.7 494.9,326.3 495.1,324.9 495.4,324.8 495.6,326.5 495.9,323.0 496.1,326.2 496.4,325.9 496.6,329.0 496.9,328.2 497.1,331.7 497.4,331.6 497.6,334.9 497.9,335.4 498.1,335.0 498.4,334.4 498.6,337.1 498.9,334.6 499.1,337.7 499.4,336.7 499.6,334.4 499.9,337.1 500.1,337.8 500.4,334.1 500.6,338.9 500.9,335.1 501.1,336.0 501.4,337.5 501.6,337.8 501.9,336.4 502.1,336.5 502.4,338.2 502.6,336.2 502.9,339.1 503.1,337.3 503.4,337.8 503.6,336.0 503.9,339.2 504.1,337.7 504.4,335.7 504.6,336.0 504.9,337.1 505.1,336.3 505.4,339.8 505.6,336.7 505.9,336.2 506.1,337.3 506.4,336.1 506.6,338.1 506.9,338.6 507.1,338.9 507.4,335.1 507.6,337.8 507.9,336.4 508.1,334.9 508.4,337.1 508.6,336.8 508.9,338.3 509.1,337.3 509.4,337.8 509.6,337.0 509.9,337.1 510.1,336.4 510.4,338.7 510.6,336.7 510.9,338.9 511.1,335.8 511.4,336.7 511.6,336.2 511.9,337.5 512.1,335.9 512.4,336.1 512.6,338.5 512.9,338.2 513.1,335.0 513.4,338.7 513.6,338.1 513.9,336.7 514.1,335.2 514.4,335.9 514.6,335.5 514.9,338.7 515.1,336.9 515.4,336.8 515.6,334.7 515.9,337.5 516.1,335.3 516.4,335.6 516.6,336.9 516.9,337.2 517.1,336.1 517.4,336.3 517.6,338.6 517.9,338.6 518.1,334.7 518.4,336.2 518.6,335.5 518.9,336.3 519.1,338.6 519.4,337.7 519.6,336.2 519.9,336.6 520.1,337.6 520.4,340.0 520.6,335.7 520.9,335.4 521.1,336.9 521.4,339.1 521.6,337.4 521.9,336.5 522.1,336.0 522.4,337.0 522.6,336.3 522.9,335.6 523.1,336.5 523.4,337.2 523.6,337.8 523.9,338.9 524.1,337.0 524.4,335.0 524.6,337.6 524.9,334.0 525.1,334.8 525.4,336.1 525.6,335.5 525.9,333.5 526.1,333.5 526.4,335.0 526.6,333.2 526.9,334.2 527.1,330.0 527.4,328.9 527.6,329.1 527.9,332.0 528.1,330.3 528.4,330.8 528.6,333.9 528.9,333.1 529.1,333.0 529.4,332.6 529.6,334.6 529.9,334.8 530.1,333.0 530.4,334.2 530.6,334.1 530.9,334.7 531.1,335.1 531.4,332.4 531.6,332.0 531.9,332.6 532.1,333.0 532.4,331.6 532.6,331.6 532.9,332.5 533.1,333.6 533.4,332.6 533.6,333.0 533.9,336.9 534.1,336.2 534.4,335.6 534.6,336.8 534.9,335.4 535.1,335.2 535.4,338.5 535.6,335.2 535.9,336.6 536.1,337.9"/>
<rect x="78.2" y="10.6" width="462.7" height="350.9" fill="none" stroke="#000" stroke-width="3.3"/>
<line x1="135.5" y1="361" x2="135.5" y2="353.5" stroke="#000" stroke-width="3"/>
<line x1="306.8" y1="361" x2="306.8" y2="353.5" stroke="#000" stroke-width="3"/>
<line x1="478.1" y1="361" x2="478.1" y2="353.5" stroke="#000" stroke-width="3"/>
<line x1="221.2" y1="361" x2="221.2" y2="357.7" stroke="#000" stroke-width="3"/>
<line x1="392.4" y1="361" x2="392.4" y2="357.7" stroke="#000" stroke-width="3"/>
<path d="M79 127.4h2.5M79 184l3 2" stroke="#000" stroke-width="2" fill="none"/>
<text transform="translate(127.00,383.8) scale(1.0000,1)" stroke="#000" font-size="17">30</text>
<text transform="translate(298.30,383.8) scale(1.0000,1)" stroke="#000" font-size="17">60</text>
<text transform="translate(469.60,383.8) scale(1.0000,1)" stroke="#000" font-size="17">90</text>
<text transform="translate(293.60,408.7) scale(0.9758,1)" stroke="#000" font-size="17">2θ/°</text>
<text transform="translate(22.9,239.90) rotate(-90) scale(1.1072,1)" stroke="#000" font-size="16.5">Indensity/a.u.</text>
<text transform="translate(200.70,31.1) scale(1.0371,1)" fill="#FF7F00" stroke="#FF7F00" font-size="17">(110)</text>
<text transform="translate(179.20,96) scale(1.0315,1)" fill="#FF00FF" stroke="#FF00FF" font-size="17">(110)</text>
<text transform="translate(323.50,30.9) scale(1.0246,1)" stroke="#000" font-size="17">#85-1327</text>
<text transform="translate(395.80,30.9) scale(1.0047,1)" stroke="#000" font-size="17">#85-1336</text>
<text transform="translate(323.50,53.0) scale(1.0246,1)" stroke="#000" font-size="17">#87-0722</text>
<text transform="translate(395.80,53.0) scale(0.9955,1)" stroke="#000" font-size="17">#87-1410</text>
<text transform="translate(323.50,75.0) scale(1.0308,1)" stroke="#000" font-size="17">#22-1058</text>
<text transform="translate(492.60,33.6) scale(0.9669,1)" fill="#FF7F00" stroke="#FF7F00" font-size="17">BCC1</text>
<text transform="translate(493.60,55.9) scale(0.9669,1)" fill="#FF00FF" stroke="#FF00FF" font-size="17">BCC2</text>
<text transform="translate(453.30,77.5) scale(1.0008,1)" fill="#FF7F00" stroke="#FF7F00" font-size="17">Block</text>
<text transform="translate(318.60,99.6) scale(1.0189,1)" fill="#FF7F00" stroke="#FF7F00" font-size="17">(200)</text>
<text transform="translate(301.60,128.6) scale(0.9292,1)" fill="#FF00FF" stroke="#FF00FF" font-size="17">(200)</text>
<text transform="translate(413.50,101.7) scale(1.0371,1)" fill="#FF7F00" stroke="#FF7F00" font-size="17">(211)</text>
<text transform="translate(386.50,131.1) scale(1.0026,1)" fill="#FF00FF" stroke="#FF00FF" font-size="17">(221)</text>
<text transform="translate(468.50,100.3) scale(0.9238,1)" fill="#FF00FF" stroke="#FF00FF" font-size="17">(220)</text>
<text transform="translate(504.00,106.5) scale(0.9048,1)" fill="#FF7F00" stroke="#FF7F00" font-size="17">(220)</text>
<text transform="translate(467.00,142.9) scale(0.9980,1)" fill="#108989" stroke="#108989" font-size="17">BM-3h</text>
<text transform="translate(465.50,182) scale(1.0039,1)" fill="#0000FF" stroke="#0000FF" font-size="17">BM-2h</text>
<text transform="translate(468.70,218.3) scale(0.9961,1)" fill="#FF0000" stroke="#FF0000" font-size="17">BM-1h</text>
<text transform="translate(432.80,255.9) scale(1.0275,1)" stroke="#000" font-size="17">Raw powders</text>
<text transform="translate(89.00,250.4) scale(0.9559,1)" stroke="#000" font-size="17">Al(200) Cr(110)</text>
<text transform="translate(89.00,270.7) scale(0.9710,1)" stroke="#000" font-size="17">Fe(110) Ni(111)</text>
<text transform="translate(170.50,289.2) scale(0.9358,1)" stroke="#000" font-size="17">V(110)</text>
<text transform="translate(225.60,298.8) scale(0.9423,1)" stroke="#000" font-size="17">Ni(200)</text>
<text transform="translate(140.80,322.5) scale(0.9531,1)" stroke="#000" font-size="17">Al(111)</text>
<text transform="translate(282.00,272.2) scale(0.9445,1)" stroke="#000" font-size="17">Al(220),Cr(200),</text>
<text transform="translate(302.20,293.8) scale(0.9207,1)" stroke="#000" font-size="17">Fe(200)</text>
<text transform="translate(368.90,316.4) scale(0.9274,1)" stroke="#000" font-size="17">Ni(220)</text>
<text transform="translate(415.20,285.2) scale(0.9503,1)" stroke="#000" font-size="17">V(211)</text>
<text transform="translate(474.20,318.6) scale(0.9078,1)" stroke="#000" font-size="17">V(220)</text>
<defs><marker id="ah" viewBox="0 0 10 10" refX="9" refY="5" markerWidth="7.5" markerHeight="4.4" orient="auto" markerUnits="userSpaceOnUse"><path d="M0 0L10 5L0 10z" fill="#000"/></marker><marker id="am" viewBox="0 0 10 10" refX="9" refY="5" markerWidth="7.5" markerHeight="5.2" orient="auto" markerUnits="userSpaceOnUse"><path d="M0 0L10 5L0 10z" fill="#FF00FF"/></marker></defs>
<g stroke="#000" stroke-width="0.8" fill="none">
<line x1="198.7" y1="257.8" x2="216.6" y2="245.6" marker-end="url(#ah)"/>
<line x1="195.4" y1="291.6" x2="205.0" y2="322" marker-end="url(#ah)"/>
<line x1="336.5" y1="298.5" x2="336.5" y2="332.5" marker-end="url(#ah)"/>
<line x1="435.5" y1="292.3" x2="435.5" y2="331" marker-end="url(#ah)"/>
</g>
<line x1="488.6" y1="96.7" x2="484" y2="109.5" stroke="#FF00FF" stroke-width="1.4" marker-end="url(#am)"/>
</svg></body></html>
